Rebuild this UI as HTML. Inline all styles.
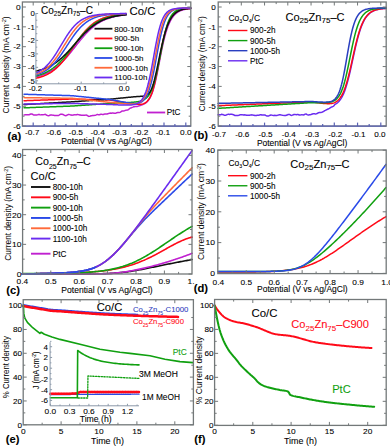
<!DOCTYPE html>
<html><head><meta charset="utf-8"><style>
html,body{margin:0;padding:0;background:#fff;}
svg{display:block;font-family:"Liberation Sans", sans-serif;}
</style></head><body>
<svg width="390" height="447" viewBox="0 0 390 447">
<rect width="390" height="447" fill="#fff"/>
<polyline points="24.04,114.9 24.81,114.86 25.57,114.79 26.33,114.65 27.09,114.7 27.85,114.77 28.61,114.8 29.37,114.67 30.14,114.25 30.9,113.97 31.66,113.9 32.42,114.27 33.18,114.71 33.94,114.92 34.71,114.99 35.47,114.91 36.23,115.03 36.99,114.9 37.75,114.67 38.51,114.42 39.27,114.56 40.04,114.79 40.8,114.88 41.56,114.79 42.32,114.81 43.08,114.82 43.84,114.6 44.6,114.39 45.37,114.37 46.13,114.81 46.89,115.26 47.65,115.62 48.41,115.77 49.17,115.53 49.94,115.2 50.7,114.9 51.46,114.94 52.22,115.05 52.98,115.13 53.74,115.27 54.5,115.42 55.27,115.48 56.03,115.38 56.79,115.41 57.55,115.45 58.31,115.47 59.07,115.09 59.83,114.65 60.6,114.29 61.36,114.12 62.12,114.26 62.88,114.42 63.64,114.91 64.4,115.18 65.17,115.65 65.93,115.6 66.69,115.44 67.45,114.91 68.21,114.56 68.97,114.54 69.73,114.63 70.5,114.91 71.26,115.05 72.02,115.21 72.78,115.08 73.54,114.92 74.3,114.74 75.06,114.88 75.83,114.79 76.59,114.78 77.35,114.53 78.11,114.6 78.87,114.65 79.63,114.94 80.4,115.08 81.16,115.33 81.92,115.28 82.68,115.36 83.44,115.25 84.2,115.29 84.96,115.22 85.73,115.12 86.49,115.11 87.25,115.47 88.01,115.98 88.77,116.38 89.53,116.25 90.3,116.04 91.06,115.77 91.82,115.7 92.58,115.57 93.34,115.49 94.1,115.43 94.86,115.37 95.63,115.19 96.39,114.85 97.15,114.58 97.91,114.61 98.67,114.81 99.43,114.72 100.19,114.42 100.96,114.19 101.72,114.33 102.48,114.45 103.24,114.41 104,114.19 104.76,114.08 105.53,114.1 106.29,114.03 107.05,113.94 107.81,113.71 108.57,113.58 109.33,113.3 110.09,113.21 110.86,113.09 111.62,113.16 112.38,113.02 113.14,113.09 113.9,113.16 114.66,113.34 115.42,113.27 116.19,112.97 116.95,112.65 117.71,112.49 118.47,112.52 119.23,112.6 119.99,112.39 120.76,111.9 121.52,111.3 122.28,111.02 123.04,110.98 123.8,110.9 124.56,110.69 125.32,110.37 126.09,110.15 126.85,110.11 127.61,110.01 128.37,109.66 129.13,108.99 129.89,108.43 130.65,107.97 131.42,107.75 132.18,107.42 132.94,107.12 133.7,106.8 134.46,106.69 135.22,106.57 135.99,106.58 136.75,106.45 137.51,106.42 138.27,106.1 139.03,105.9 139.79,105.59 140.55,105.45 141.32,105.06 142.08,104.71 142.84,104.44 143.6,104.14 144.36,103.78 145.12,103.35 145.89,102.84 146.65,102.22 147.41,101.48 148.17,100.61 148.93,99.57 149.69,98.36 150.45,96.93 151.22,95.28 151.98,93.38 152.74,91.21 153.5,88.76 154.26,86.03 155.02,83.03 155.78,79.76 156.55,76.25 157.31,72.55 158.07,68.71 158.83,64.77 159.59,60.8 160.35,56.85 161.12,52.97 161.88,49.21 162.64,45.61 163.4,42.2 164.16,39 164.92,36.01 165.68,33.25 166.45,30.71 167.21,28.4 167.97,26.28 168.73,24.37 169.49,22.64 170.25,21.08 171.01,19.68 171.78,18.42 172.54,17.29 173.3,16.28 174.06,15.38 174.82,14.57 175.58,13.85 176.35,13.21 177.11,12.64 177.87,12.13 178.63,11.67 179.39,11.27 180.15,10.91 180.91,10.58 181.68,10.3 182.44,10.04 183.2,9.82 183.96,9.62 184.72,9.44 185.48,9.28 186.24,9.14 187.01,9.01 187.77,8.9 188.53,8.8 189.29,8.71 190.05,8.63 190.81,8.56" fill="none" stroke="#c020d0" stroke-width="1.5" stroke-linejoin="round" stroke-linecap="round"/>
<polyline points="24.04,100.72 24.81,100.69 25.57,100.67 26.33,100.64 27.09,100.61 27.85,100.58 28.61,100.56 29.37,100.53 30.14,100.5 30.9,100.48 31.66,100.45 32.42,100.42 33.18,100.39 33.94,100.37 34.71,100.34 35.47,100.31 36.23,100.29 36.99,100.26 37.75,100.23 38.51,100.2 39.27,100.18 40.04,100.15 40.8,100.12 41.56,100.09 42.32,100.07 43.08,100.04 43.84,100.01 44.6,99.99 45.37,99.96 46.13,99.93 46.89,99.9 47.65,99.88 48.41,99.85 49.17,99.82 49.94,99.79 50.7,99.77 51.46,99.74 52.22,99.71 52.98,99.69 53.74,99.66 54.5,99.63 55.27,99.6 56.03,99.58 56.79,99.55 57.55,99.52 58.31,99.49 59.07,99.47 59.83,99.44 60.6,99.41 61.36,99.39 62.12,99.36 62.88,99.33 63.64,99.3 64.4,99.28 65.17,99.25 65.93,99.22 66.69,99.19 67.45,99.17 68.21,99.14 68.97,99.11 69.73,99.09 70.5,99.06 71.26,99.03 72.02,99.01 72.78,99.03 73.54,99.04 74.3,99.06 75.06,99.08 75.83,99.1 76.59,99.12 77.35,99.14 78.11,99.16 78.87,99.18 79.63,99.2 80.4,99.22 81.16,99.24 81.92,99.26 82.68,99.28 83.44,99.3 84.2,99.32 84.96,99.34 85.73,99.36 86.49,99.38 87.25,99.4 88.01,99.42 88.77,99.44 89.53,99.46 90.3,99.48 91.06,99.5 91.82,99.52 92.58,99.54 93.34,99.56 94.1,99.58 94.86,99.6 95.63,99.62 96.39,99.64 97.15,99.66 97.91,99.68 98.67,99.7 99.43,99.72 100.19,99.74 100.96,99.76 101.72,99.78 102.48,99.8 103.24,99.82 104,99.84 104.76,99.86 105.53,99.88 106.29,99.9 107.05,99.92 107.81,99.94 108.57,99.96 109.33,99.98 110.09,100.02 110.86,100.15 111.62,100.28 112.38,100.41 113.14,100.54 113.9,100.67 114.66,100.8 115.42,100.93 116.19,101.06 116.95,101.19 117.71,101.32 118.47,101.45 119.23,101.58 119.99,101.71 120.76,101.84 121.52,101.96 122.28,102.09 123.04,102.22 123.8,102.35 124.56,102.48 125.32,102.6 126.09,102.73 126.85,102.86 127.61,102.98 128.37,103.11 129.13,103.23 129.89,103.35 130.65,103.47 131.42,103.59 132.18,103.7 132.94,103.81 133.7,103.92 134.46,104.02 135.22,104.11 135.99,104.18 136.75,104.23 137.51,104.28 138.27,104.31 139.03,104.32 139.79,104.32 140.55,104.29 141.32,104.23 142.08,104.14 142.84,103.91 143.6,103.62 144.36,103.27 145.12,102.84 145.89,102.33 146.65,101.71 147.41,100.97 148.17,100.09 148.93,99.04 149.69,97.8 150.45,96.34 151.22,94.64 151.98,92.67 152.74,90.42 153.5,87.86 154.26,85 155.02,81.83 155.78,78.38 156.55,74.68 157.31,70.78 158.07,66.72 158.83,62.57 159.59,58.4 160.35,54.27 161.12,50.24 161.88,46.36 162.64,42.68 163.4,39.21 164.16,35.99 164.92,33.02 165.68,30.3 166.45,27.83 167.21,25.6 167.97,23.59 168.73,21.79 169.49,20.18 170.25,18.75 171.01,17.48 171.78,16.35 172.54,15.35 173.3,14.47 174.06,13.69 174.82,13.01 175.58,12.4 176.35,11.87 177.11,11.4 177.87,10.99 178.63,10.63 179.39,10.31 180.15,10.03 180.91,9.78 181.68,9.56 182.44,9.37 183.2,9.2 183.96,9.06 184.72,8.93 185.48,8.81 186.24,8.71 187.01,8.63 187.77,8.55 188.53,8.48 189.29,8.42 190.05,8.37 190.81,8.32" fill="none" stroke="#ff0a18" stroke-width="1.5" stroke-linejoin="round" stroke-linecap="round"/>
<polyline points="24.04,107.82 24.81,107.8 25.57,107.77 26.33,107.74 27.09,107.71 27.85,107.68 28.61,107.66 29.37,107.63 30.14,107.6 30.9,107.57 31.66,107.54 32.42,107.52 33.18,107.49 33.94,107.46 34.71,107.43 35.47,107.4 36.23,107.37 36.99,107.35 37.75,107.32 38.51,107.29 39.27,107.26 40.04,107.23 40.8,107.21 41.56,107.18 42.32,107.15 43.08,107.12 43.84,107.09 44.6,107.06 45.37,107.04 46.13,107.01 46.89,106.98 47.65,106.95 48.41,106.92 49.17,106.9 49.94,106.87 50.7,106.84 51.46,106.81 52.22,106.78 52.98,106.75 53.74,106.73 54.5,106.7 55.27,106.67 56.03,106.64 56.79,106.61 57.55,106.59 58.31,106.56 59.07,106.53 59.83,106.5 60.6,106.47 61.36,106.45 62.12,106.42 62.88,106.39 63.64,106.36 64.4,106.33 65.17,106.3 65.93,106.28 66.69,106.25 67.45,106.22 68.21,106.19 68.97,106.16 69.73,106.14 70.5,106.11 71.26,106.08 72.02,106.05 72.78,106 73.54,105.94 74.3,105.89 75.06,105.84 75.83,105.78 76.59,105.73 77.35,105.68 78.11,105.62 78.87,105.57 79.63,105.52 80.4,105.46 81.16,105.41 81.92,105.36 82.68,105.3 83.44,105.25 84.2,105.2 84.96,105.14 85.73,105.09 86.49,105.04 87.25,104.98 88.01,104.93 88.77,104.88 89.53,104.82 90.3,104.77 91.06,104.72 91.82,104.66 92.58,104.61 93.34,104.56 94.1,104.5 94.86,104.45 95.63,104.4 96.39,104.34 97.15,104.29 97.91,104.23 98.67,104.18 99.43,104.13 100.19,104.07 100.96,104.02 101.72,103.97 102.48,103.91 103.24,103.86 104,103.81 104.76,103.75 105.53,103.7 106.29,103.65 107.05,103.59 107.81,103.54 108.57,103.49 109.33,103.43 110.09,103.38 110.86,103.35 111.62,103.32 112.38,103.29 113.14,103.26 113.9,103.23 114.66,103.2 115.42,103.17 116.19,103.14 116.95,103.11 117.71,103.08 118.47,103.04 119.23,103.01 119.99,102.98 120.76,102.95 121.52,102.91 122.28,102.88 123.04,102.85 123.8,102.81 124.56,102.77 125.32,102.74 126.09,102.7 126.85,102.66 127.61,102.62 128.37,102.57 129.13,102.53 129.89,102.48 130.65,102.43 131.42,102.37 132.18,102.31 132.94,102.24 133.7,102.17 134.46,102.09 135.22,102 135.99,101.92 136.75,101.82 137.51,101.71 138.27,101.58 139.03,101.43 139.79,101.26 140.55,101.06 141.32,100.82 142.08,100.55 142.84,100.24 143.6,99.88 144.36,99.46 145.12,98.97 145.89,98.4 146.65,97.73 147.41,96.95 148.17,96.05 148.93,95.01 149.69,93.81 150.45,92.44 151.22,90.87 151.98,89.1 152.74,87.09 153.5,84.85 154.26,82.37 155.02,79.63 155.78,76.64 156.55,73.42 157.31,69.99 158.07,66.37 158.83,62.61 159.59,58.74 160.35,54.83 161.12,50.92 161.88,47.07 162.64,43.32 163.4,39.73 164.16,36.33 164.92,33.15 165.68,30.2 166.45,27.5 167.21,25.05 167.97,22.85 168.73,20.88 169.49,19.14 170.25,17.61 171.01,16.26 171.78,15.09 172.54,14.07 173.3,13.19 174.06,12.43 174.82,11.78 175.58,11.22 176.35,10.74 177.11,10.33 177.87,9.98 178.63,9.68 179.39,9.43 180.15,9.21 180.91,9.02 181.68,8.87 182.44,8.73 183.2,8.62 183.96,8.53 184.72,8.44 185.48,8.38 186.24,8.32 187.01,8.27 187.77,8.23 188.53,8.19 189.29,8.16 190.05,8.13 190.81,8.11" fill="none" stroke="#10a010" stroke-width="1.5" stroke-linejoin="round" stroke-linecap="round"/>
<polyline points="24.04,104.55 24.81,104.51 25.57,104.46 26.33,104.42 27.09,104.38 27.85,104.33 28.61,104.29 29.37,104.24 30.14,104.2 30.9,104.16 31.66,104.11 32.42,104.07 33.18,104.03 33.94,103.98 34.71,103.94 35.47,103.9 36.23,103.85 36.99,103.81 37.75,103.76 38.51,103.72 39.27,103.68 40.04,103.63 40.8,103.59 41.56,103.55 42.32,103.5 43.08,103.46 43.84,103.42 44.6,103.37 45.37,103.33 46.13,103.29 46.89,103.24 47.65,103.2 48.41,103.15 49.17,103.11 49.94,103.07 50.7,103.02 51.46,102.98 52.22,102.94 52.98,102.89 53.74,102.85 54.5,102.81 55.27,102.76 56.03,102.72 56.79,102.67 57.55,102.63 58.31,102.59 59.07,102.54 59.83,102.5 60.6,102.46 61.36,102.41 62.12,102.37 62.88,102.33 63.64,102.28 64.4,102.24 65.17,102.2 65.93,102.15 66.69,102.11 67.45,102.06 68.21,102.02 68.97,101.98 69.73,101.93 70.5,101.89 71.26,101.85 72.02,101.8 72.78,101.75 73.54,101.7 74.3,101.65 75.06,101.59 75.83,101.54 76.59,101.49 77.35,101.44 78.11,101.38 78.87,101.33 79.63,101.28 80.4,101.23 81.16,101.18 81.92,101.12 82.68,101.07 83.44,101.02 84.2,100.97 84.96,100.92 85.73,100.86 86.49,100.81 87.25,100.76 88.01,100.71 88.77,100.65 89.53,100.6 90.3,100.55 91.06,100.5 91.82,100.45 92.58,100.39 93.34,100.34 94.1,100.29 94.86,100.24 95.63,100.18 96.39,100.13 97.15,100.08 97.91,100.03 98.67,99.98 99.43,99.92 100.19,99.87 100.96,99.82 101.72,99.77 102.48,99.71 103.24,99.66 104,99.61 104.76,99.56 105.53,99.51 106.29,99.45 107.05,99.4 107.81,99.35 108.57,99.3 109.33,99.24 110.09,99.19 110.86,99.11 111.62,99.04 112.38,98.96 113.14,98.88 113.9,98.81 114.66,98.73 115.42,98.66 116.19,98.58 116.95,98.5 117.71,98.43 118.47,98.35 119.23,98.28 119.99,98.2 120.76,98.12 121.52,98.05 122.28,97.97 123.04,97.9 123.8,97.82 124.56,97.74 125.32,97.67 126.09,97.59 126.85,97.52 127.61,97.44 128.37,97.36 129.13,97.29 129.89,97.21 130.65,97.14 131.42,97.06 132.18,96.98 132.94,96.91 133.7,96.83 134.46,96.76 135.22,96.69 135.99,96.65 136.75,96.61 137.51,96.56 138.27,96.52 139.03,96.47 139.79,96.42 140.55,96.36 141.32,96.29 142.08,96.21 142.84,96.14 143.6,96.06 144.36,95.93 145.12,95.75 145.89,95.49 146.65,95.15 147.41,94.68 148.17,94.07 148.93,93.28 149.69,92.27 150.45,91.02 151.22,89.5 151.98,87.69 152.74,85.57 153.5,83.15 154.26,80.43 155.02,77.44 155.78,74.21 156.55,70.79 157.31,67.21 158.07,63.53 158.83,59.8 159.59,56.08 160.35,52.41 161.12,48.84 161.88,45.39 162.64,42.09 163.4,38.97 164.16,36.04 164.92,33.31 165.68,30.78 166.45,28.45 167.21,26.32 167.97,24.37 168.73,22.61 169.49,21.01 170.25,19.57 171.01,18.27 171.78,17.11 172.54,16.07 173.3,15.15 174.06,14.32 174.82,13.59 175.58,12.93 176.35,12.36 177.11,11.84 177.87,11.39 178.63,10.99 179.39,10.63 180.15,10.32 180.91,10.04 181.68,9.8 182.44,9.58 183.2,9.39 183.96,9.22 184.72,9.07 185.48,8.94 186.24,8.83 187.01,8.73 187.77,8.64 188.53,8.56 189.29,8.49 190.05,8.43 190.81,8.38" fill="none" stroke="#111111" stroke-width="1.5" stroke-linejoin="round" stroke-linecap="round"/>
<polyline points="24.04,94.26 24.81,94.28 25.57,94.3 26.33,94.33 27.09,94.35 27.85,94.37 28.61,94.4 29.37,94.42 30.14,94.44 30.9,94.46 31.66,94.49 32.42,94.51 33.18,94.53 33.94,94.55 34.71,94.58 35.47,94.6 36.23,94.62 36.99,94.65 37.75,94.67 38.51,94.69 39.27,94.71 40.04,94.74 40.8,94.76 41.56,94.78 42.32,94.8 43.08,94.83 43.84,94.85 44.6,94.87 45.37,94.9 46.13,94.92 46.89,94.94 47.65,94.96 48.41,94.99 49.17,95.01 49.94,95.03 50.7,95.05 51.46,95.08 52.22,95.1 52.98,95.12 53.74,95.15 54.5,95.17 55.27,95.19 56.03,95.21 56.79,95.24 57.55,95.26 58.31,95.28 59.07,95.3 59.83,95.33 60.6,95.35 61.36,95.37 62.12,95.4 62.88,95.42 63.64,95.44 64.4,95.46 65.17,95.49 65.93,95.51 66.69,95.53 67.45,95.55 68.21,95.58 68.97,95.6 69.73,95.62 70.5,95.64 71.26,95.67 72.02,95.69 72.78,95.77 73.54,95.84 74.3,95.92 75.06,96 75.83,96.07 76.59,96.15 77.35,96.23 78.11,96.3 78.87,96.38 79.63,96.46 80.4,96.53 81.16,96.61 81.92,96.69 82.68,96.76 83.44,96.84 84.2,96.92 84.96,96.99 85.73,97.07 86.49,97.15 87.25,97.22 88.01,97.3 88.77,97.37 89.53,97.45 90.3,97.53 91.06,97.6 91.82,97.68 92.58,97.76 93.34,97.83 94.1,97.91 94.86,97.99 95.63,98.06 96.39,98.14 97.15,98.22 97.91,98.29 98.67,98.37 99.43,98.45 100.19,98.52 100.96,98.6 101.72,98.67 102.48,98.75 103.24,98.83 104,98.9 104.76,98.98 105.53,99.06 106.29,99.13 107.05,99.21 107.81,99.29 108.57,99.36 109.33,99.44 110.09,99.53 110.86,99.67 111.62,99.82 112.38,99.96 113.14,100.1 113.9,100.25 114.66,100.39 115.42,100.53 116.19,100.68 116.95,100.82 117.71,100.96 118.47,101.1 119.23,101.25 119.99,101.39 120.76,101.53 121.52,101.67 122.28,101.8 123.04,101.94 123.8,102.07 124.56,102.21 125.32,102.34 126.09,102.47 126.85,102.59 127.61,102.71 128.37,102.83 129.13,102.94 129.89,103.05 130.65,103.15 131.42,103.24 132.18,103.32 132.94,103.39 133.7,103.45 134.46,103.49 135.22,103.49 135.99,103.45 136.75,103.38 137.51,103.28 138.27,103.14 139.03,102.95 139.79,102.72 140.55,102.42 141.32,102.05 142.08,101.6 142.84,100.97 143.6,100.21 144.36,99.33 145.12,98.31 145.89,97.13 146.65,95.77 147.41,94.2 148.17,92.42 148.93,90.4 149.69,88.13 150.45,85.59 151.22,82.78 151.98,79.7 152.74,76.36 153.5,72.79 154.26,69 155.02,65.05 155.78,60.98 156.55,56.85 157.31,52.72 158.07,48.64 158.83,44.67 159.59,40.87 160.35,37.27 161.12,33.9 161.88,30.79 162.64,27.96 163.4,25.39 164.16,23.09 164.92,21.04 165.68,19.23 166.45,17.64 167.21,16.26 167.97,15.06 168.73,14.02 169.49,13.13 170.25,12.36 171.01,11.7 171.78,11.14 172.54,10.66 173.3,10.25 174.06,9.9 174.82,9.61 175.58,9.36 176.35,9.15 177.11,8.97 177.87,8.82 178.63,8.69 179.39,8.58 180.15,8.49 180.91,8.41 181.68,8.35 182.44,8.29 183.2,8.24 183.96,8.2 184.72,8.17 185.48,8.14 186.24,8.12 187.01,8.1 187.77,8.08 188.53,8.07 189.29,8.06 190.05,8.05 190.81,8.04" fill="none" stroke="#2a4ae8" stroke-width="1.5" stroke-linejoin="round" stroke-linecap="round"/>
<polyline points="24.04,97.62 24.81,97.63 25.57,97.64 26.33,97.65 27.09,97.67 27.85,97.68 28.61,97.69 29.37,97.7 30.14,97.71 30.9,97.72 31.66,97.73 32.42,97.74 33.18,97.75 33.94,97.76 34.71,97.77 35.47,97.78 36.23,97.79 36.99,97.8 37.75,97.81 38.51,97.82 39.27,97.83 40.04,97.85 40.8,97.86 41.56,97.87 42.32,97.88 43.08,97.89 43.84,97.9 44.6,97.91 45.37,97.92 46.13,97.93 46.89,97.94 47.65,97.95 48.41,97.96 49.17,97.97 49.94,97.98 50.7,97.99 51.46,98 52.22,98.01 52.98,98.03 53.74,98.04 54.5,98.05 55.27,98.06 56.03,98.07 56.79,98.08 57.55,98.09 58.31,98.1 59.07,98.11 59.83,98.12 60.6,98.13 61.36,98.14 62.12,98.15 62.88,98.16 63.64,98.17 64.4,98.18 65.17,98.19 65.93,98.21 66.69,98.22 67.45,98.23 68.21,98.24 68.97,98.25 69.73,98.26 70.5,98.27 71.26,98.28 72.02,98.29 72.78,98.37 73.54,98.46 74.3,98.54 75.06,98.62 75.83,98.7 76.59,98.79 77.35,98.87 78.11,98.95 78.87,99.03 79.63,99.12 80.4,99.2 81.16,99.28 81.92,99.36 82.68,99.45 83.44,99.53 84.2,99.61 84.96,99.69 85.73,99.78 86.49,99.86 87.25,99.94 88.01,100.02 88.77,100.11 89.53,100.19 90.3,100.27 91.06,100.35 91.82,100.44 92.58,100.52 93.34,100.6 94.1,100.68 94.86,100.77 95.63,100.85 96.39,100.93 97.15,101.01 97.91,101.1 98.67,101.18 99.43,101.26 100.19,101.34 100.96,101.43 101.72,101.51 102.48,101.59 103.24,101.67 104,101.76 104.76,101.84 105.53,101.92 106.29,102 107.05,102.08 107.81,102.17 108.57,102.25 109.33,102.33 110.09,102.41 110.86,102.49 111.62,102.56 112.38,102.64 113.14,102.71 113.9,102.79 114.66,102.86 115.42,102.93 116.19,103.01 116.95,103.08 117.71,103.15 118.47,103.23 119.23,103.3 119.99,103.37 120.76,103.44 121.52,103.5 122.28,103.57 123.04,103.64 123.8,103.7 124.56,103.76 125.32,103.82 126.09,103.87 126.85,103.92 127.61,103.97 128.37,104.01 129.13,104.04 129.89,104.06 130.65,104.08 131.42,104.08 132.18,104.07 132.94,104.05 133.7,104 134.46,103.94 135.22,103.83 135.99,103.67 136.75,103.48 137.51,103.24 138.27,102.95 139.03,102.61 139.79,102.19 140.55,101.7 141.32,101.12 142.08,100.43 142.84,99.6 143.6,98.62 144.36,97.48 145.12,96.17 145.89,94.67 146.65,92.95 147.41,91 148.17,88.8 148.93,86.33 149.69,83.6 150.45,80.6 151.22,77.33 151.98,73.82 152.74,70.09 153.5,66.18 154.26,62.14 155.02,58.02 155.78,53.88 156.55,49.78 157.31,45.78 158.07,41.92 158.83,38.26 159.59,34.83 160.35,31.65 161.12,28.73 161.88,26.09 162.64,23.71 163.4,21.59 164.16,19.72 164.92,18.07 165.68,16.63 166.45,15.38 167.21,14.3 167.97,13.37 168.73,12.56 169.49,11.88 170.25,11.29 171.01,10.79 171.78,10.36 172.54,10 173.3,9.69 174.06,9.43 174.82,9.2 175.58,9.02 176.35,8.86 177.11,8.72 177.87,8.61 178.63,8.51 179.39,8.43 180.15,8.36 180.91,8.31 181.68,8.26 182.44,8.22 183.2,8.18 183.96,8.15 184.72,8.13 185.48,8.11 186.24,8.09 187.01,8.07 187.77,8.06 188.53,8.05 189.29,8.04 190.05,8.03 190.81,8.03" fill="none" stroke="#ff6a3a" stroke-width="1.5" stroke-linejoin="round" stroke-linecap="round"/>
<polyline points="24.04,103.96 24.81,103.95 25.57,103.95 26.33,103.94 27.09,103.93 27.85,103.92 28.61,103.91 29.37,103.9 30.14,103.89 30.9,103.88 31.66,103.87 32.42,103.86 33.18,103.85 33.94,103.85 34.71,103.84 35.47,103.83 36.23,103.82 36.99,103.81 37.75,103.8 38.51,103.79 39.27,103.78 40.04,103.77 40.8,103.76 41.56,103.75 42.32,103.75 43.08,103.74 43.84,103.73 44.6,103.72 45.37,103.71 46.13,103.7 46.89,103.69 47.65,103.68 48.41,103.67 49.17,103.66 49.94,103.65 50.7,103.65 51.46,103.64 52.22,103.63 52.98,103.62 53.74,103.61 54.5,103.6 55.27,103.59 56.03,103.58 56.79,103.57 57.55,103.56 58.31,103.55 59.07,103.55 59.83,103.54 60.6,103.53 61.36,103.52 62.12,103.51 62.88,103.5 63.64,103.49 64.4,103.48 65.17,103.47 65.93,103.46 66.69,103.46 67.45,103.45 68.21,103.44 68.97,103.43 69.73,103.42 70.5,103.41 71.26,103.4 72.02,103.39 72.78,103.41 73.54,103.44 74.3,103.46 75.06,103.48 75.83,103.5 76.59,103.53 77.35,103.55 78.11,103.57 78.87,103.59 79.63,103.62 80.4,103.64 81.16,103.66 81.92,103.68 82.68,103.7 83.44,103.73 84.2,103.75 84.96,103.77 85.73,103.79 86.49,103.82 87.25,103.84 88.01,103.86 88.77,103.88 89.53,103.91 90.3,103.93 91.06,103.95 91.82,103.97 92.58,103.99 93.34,104.02 94.1,104.04 94.86,104.06 95.63,104.08 96.39,104.11 97.15,104.13 97.91,104.15 98.67,104.17 99.43,104.2 100.19,104.22 100.96,104.24 101.72,104.26 102.48,104.28 103.24,104.31 104,104.33 104.76,104.35 105.53,104.37 106.29,104.39 107.05,104.42 107.81,104.44 108.57,104.46 109.33,104.48 110.09,104.51 110.86,104.54 111.62,104.58 112.38,104.61 113.14,104.65 113.9,104.68 114.66,104.72 115.42,104.75 116.19,104.78 116.95,104.81 117.71,104.85 118.47,104.88 119.23,104.91 119.99,104.94 120.76,104.97 121.52,104.99 122.28,105.02 123.04,105.04 123.8,105.06 124.56,105.07 125.32,105.09 126.09,105.09 126.85,105.1 127.61,105.09 128.37,105.08 129.13,105.06 129.89,105.03 130.65,104.99 131.42,104.93 132.18,104.85 132.94,104.75 133.7,104.63 134.46,104.48 135.22,104.28 135.99,104.03 136.75,103.74 137.51,103.38 138.27,102.96 139.03,102.46 139.79,101.86 140.55,101.17 141.32,100.34 142.08,99.38 142.84,98.25 143.6,96.93 144.36,95.4 145.12,93.66 145.89,91.67 146.65,89.42 147.41,86.89 148.17,84.07 148.93,80.97 149.69,77.6 150.45,73.96 151.22,70.1 151.98,66.05 152.74,61.87 153.5,57.61 154.26,53.35 155.02,49.13 155.78,45.04 156.55,41.11 157.31,37.4 158.07,33.93 158.83,30.74 159.59,27.84 160.35,25.22 161.12,22.88 161.88,20.8 162.64,18.98 163.4,17.39 164.16,16.01 164.92,14.81 165.68,13.78 166.45,12.9 167.21,12.15 167.97,11.51 168.73,10.96 169.49,10.5 170.25,10.1 171.01,9.77 171.78,9.49 172.54,9.25 173.3,9.05 174.06,8.89 174.82,8.74 175.58,8.62 176.35,8.52 177.11,8.44 177.87,8.37 178.63,8.31 179.39,8.26 180.15,8.21 180.91,8.18 181.68,8.15 182.44,8.12 183.2,8.1 183.96,8.09 184.72,8.07 185.48,8.06 186.24,8.05 187.01,8.04 187.77,8.03 188.53,8.03 189.29,8.02 190.05,8.02 190.81,8.01" fill="none" stroke="#6a2cf0" stroke-width="1.5" stroke-linejoin="round" stroke-linecap="round"/>
<rect x="22.4" y="2" width="168.4" height="124.1" fill="none" stroke="#737879" stroke-width="1.3"/>
<line x1="22.4" y1="126.1" x2="190.8" y2="126.1" stroke="#5a62b4" stroke-width="1.3"/>
<line x1="33.2" y1="126.1" x2="33.2" y2="122.6" stroke="#5a62b4" stroke-width="1.2"/>
<line x1="33.2" y1="2" x2="33.2" y2="5.5" stroke="#737879" stroke-width="1.0"/>
<line x1="44.1" y1="126.1" x2="44.1" y2="124" stroke="#5a62b4" stroke-width="1.2"/>
<line x1="44.1" y1="2" x2="44.1" y2="4.1" stroke="#737879" stroke-width="1.0"/>
<line x1="55" y1="126.1" x2="55" y2="122.6" stroke="#5a62b4" stroke-width="1.2"/>
<line x1="55" y1="2" x2="55" y2="5.5" stroke="#737879" stroke-width="1.0"/>
<line x1="65.9" y1="126.1" x2="65.9" y2="124" stroke="#5a62b4" stroke-width="1.2"/>
<line x1="65.9" y1="2" x2="65.9" y2="4.1" stroke="#737879" stroke-width="1.0"/>
<line x1="76.8" y1="126.1" x2="76.8" y2="122.6" stroke="#5a62b4" stroke-width="1.2"/>
<line x1="76.8" y1="2" x2="76.8" y2="5.5" stroke="#737879" stroke-width="1.0"/>
<line x1="87.7" y1="126.1" x2="87.7" y2="124" stroke="#5a62b4" stroke-width="1.2"/>
<line x1="87.7" y1="2" x2="87.7" y2="4.1" stroke="#737879" stroke-width="1.0"/>
<line x1="98.6" y1="126.1" x2="98.6" y2="122.6" stroke="#5a62b4" stroke-width="1.2"/>
<line x1="98.6" y1="2" x2="98.6" y2="5.5" stroke="#737879" stroke-width="1.0"/>
<line x1="109.5" y1="126.1" x2="109.5" y2="124" stroke="#5a62b4" stroke-width="1.2"/>
<line x1="109.5" y1="2" x2="109.5" y2="4.1" stroke="#737879" stroke-width="1.0"/>
<line x1="120.4" y1="126.1" x2="120.4" y2="122.6" stroke="#5a62b4" stroke-width="1.2"/>
<line x1="120.4" y1="2" x2="120.4" y2="5.5" stroke="#737879" stroke-width="1.0"/>
<line x1="131.3" y1="126.1" x2="131.3" y2="124" stroke="#5a62b4" stroke-width="1.2"/>
<line x1="131.3" y1="2" x2="131.3" y2="4.1" stroke="#737879" stroke-width="1.0"/>
<line x1="142.2" y1="126.1" x2="142.2" y2="122.6" stroke="#5a62b4" stroke-width="1.2"/>
<line x1="142.2" y1="2" x2="142.2" y2="5.5" stroke="#737879" stroke-width="1.0"/>
<line x1="153.1" y1="126.1" x2="153.1" y2="124" stroke="#5a62b4" stroke-width="1.2"/>
<line x1="153.1" y1="2" x2="153.1" y2="4.1" stroke="#737879" stroke-width="1.0"/>
<line x1="164" y1="126.1" x2="164" y2="122.6" stroke="#5a62b4" stroke-width="1.2"/>
<line x1="164" y1="2" x2="164" y2="5.5" stroke="#737879" stroke-width="1.0"/>
<line x1="174.9" y1="126.1" x2="174.9" y2="124" stroke="#5a62b4" stroke-width="1.2"/>
<line x1="174.9" y1="2" x2="174.9" y2="4.1" stroke="#737879" stroke-width="1.0"/>
<line x1="185.8" y1="126.1" x2="185.8" y2="122.6" stroke="#5a62b4" stroke-width="1.2"/>
<line x1="185.8" y1="2" x2="185.8" y2="5.5" stroke="#737879" stroke-width="1.0"/>
<line x1="22.4" y1="7" x2="25.9" y2="7" stroke="#737879" stroke-width="1.0"/>
<line x1="190.8" y1="7" x2="187.3" y2="7" stroke="#737879" stroke-width="1.0"/>
<line x1="22.4" y1="16.93" x2="24.5" y2="16.93" stroke="#737879" stroke-width="1.0"/>
<line x1="190.8" y1="16.93" x2="188.7" y2="16.93" stroke="#737879" stroke-width="1.0"/>
<line x1="22.4" y1="26.85" x2="25.9" y2="26.85" stroke="#737879" stroke-width="1.0"/>
<line x1="190.8" y1="26.85" x2="187.3" y2="26.85" stroke="#737879" stroke-width="1.0"/>
<line x1="22.4" y1="36.78" x2="24.5" y2="36.78" stroke="#737879" stroke-width="1.0"/>
<line x1="190.8" y1="36.78" x2="188.7" y2="36.78" stroke="#737879" stroke-width="1.0"/>
<line x1="22.4" y1="46.7" x2="25.9" y2="46.7" stroke="#737879" stroke-width="1.0"/>
<line x1="190.8" y1="46.7" x2="187.3" y2="46.7" stroke="#737879" stroke-width="1.0"/>
<line x1="22.4" y1="56.62" x2="24.5" y2="56.62" stroke="#737879" stroke-width="1.0"/>
<line x1="190.8" y1="56.62" x2="188.7" y2="56.62" stroke="#737879" stroke-width="1.0"/>
<line x1="22.4" y1="66.55" x2="25.9" y2="66.55" stroke="#737879" stroke-width="1.0"/>
<line x1="190.8" y1="66.55" x2="187.3" y2="66.55" stroke="#737879" stroke-width="1.0"/>
<line x1="22.4" y1="76.48" x2="24.5" y2="76.48" stroke="#737879" stroke-width="1.0"/>
<line x1="190.8" y1="76.48" x2="188.7" y2="76.48" stroke="#737879" stroke-width="1.0"/>
<line x1="22.4" y1="86.4" x2="25.9" y2="86.4" stroke="#737879" stroke-width="1.0"/>
<line x1="190.8" y1="86.4" x2="187.3" y2="86.4" stroke="#737879" stroke-width="1.0"/>
<line x1="22.4" y1="96.33" x2="24.5" y2="96.33" stroke="#737879" stroke-width="1.0"/>
<line x1="190.8" y1="96.33" x2="188.7" y2="96.33" stroke="#737879" stroke-width="1.0"/>
<line x1="22.4" y1="106.25" x2="25.9" y2="106.25" stroke="#737879" stroke-width="1.0"/>
<line x1="190.8" y1="106.25" x2="187.3" y2="106.25" stroke="#737879" stroke-width="1.0"/>
<line x1="22.4" y1="116.18" x2="24.5" y2="116.18" stroke="#737879" stroke-width="1.0"/>
<line x1="190.8" y1="116.18" x2="188.7" y2="116.18" stroke="#737879" stroke-width="1.0"/>
<line x1="22.4" y1="126.1" x2="25.9" y2="126.1" stroke="#737879" stroke-width="1.0"/>
<line x1="190.8" y1="126.1" x2="187.3" y2="126.1" stroke="#737879" stroke-width="1.0"/>
<text transform="translate(32.2,132.6) scale(1.0800,1)" x="0" y="2.78" font-size="7.73" fill="#000" stroke="#000" stroke-width="0.08" text-anchor="middle">-0.7</text>
<text transform="translate(54,132.6) scale(1.0800,1)" x="0" y="2.78" font-size="7.73" fill="#000" stroke="#000" stroke-width="0.08" text-anchor="middle">-0.6</text>
<text transform="translate(75.8,132.6) scale(1.0800,1)" x="0" y="2.78" font-size="7.73" fill="#000" stroke="#000" stroke-width="0.08" text-anchor="middle">-0.5</text>
<text transform="translate(97.6,132.6) scale(1.0800,1)" x="0" y="2.78" font-size="7.73" fill="#000" stroke="#000" stroke-width="0.08" text-anchor="middle">-0.4</text>
<text transform="translate(119.4,132.6) scale(1.0800,1)" x="0" y="2.78" font-size="7.73" fill="#000" stroke="#000" stroke-width="0.08" text-anchor="middle">-0.3</text>
<text transform="translate(141.2,132.6) scale(1.0800,1)" x="0" y="2.78" font-size="7.73" fill="#000" stroke="#000" stroke-width="0.08" text-anchor="middle">-0.2</text>
<text transform="translate(163,132.6) scale(1.0800,1)" x="0" y="2.78" font-size="7.73" fill="#000" stroke="#000" stroke-width="0.08" text-anchor="middle">-0.1</text>
<text transform="translate(185.8,132.6) scale(1.0800,1)" x="0" y="2.78" font-size="7.73" fill="#000" stroke="#000" stroke-width="0.08" text-anchor="middle">0.0</text>
<text transform="translate(20.6,7) scale(1.0800,1)" x="0" y="2.78" font-size="7.73" fill="#000" stroke="#000" stroke-width="0.08" text-anchor="end">0</text>
<text transform="translate(20.6,26.85) scale(1.0800,1)" x="0" y="2.78" font-size="7.73" fill="#000" stroke="#000" stroke-width="0.08" text-anchor="end">-1</text>
<text transform="translate(20.6,46.7) scale(1.0800,1)" x="0" y="2.78" font-size="7.73" fill="#000" stroke="#000" stroke-width="0.08" text-anchor="end">-2</text>
<text transform="translate(20.6,66.55) scale(1.0800,1)" x="0" y="2.78" font-size="7.73" fill="#000" stroke="#000" stroke-width="0.08" text-anchor="end">-3</text>
<text transform="translate(20.6,86.4) scale(1.0800,1)" x="0" y="2.78" font-size="7.73" fill="#000" stroke="#000" stroke-width="0.08" text-anchor="end">-4</text>
<text transform="translate(20.6,106.25) scale(1.0800,1)" x="0" y="2.78" font-size="7.73" fill="#000" stroke="#000" stroke-width="0.08" text-anchor="end">-5</text>
<text transform="translate(20.6,126.1) scale(1.0800,1)" x="0" y="2.78" font-size="7.73" fill="#000" stroke="#000" stroke-width="0.08" text-anchor="end">-6</text>
<text transform="translate(106.6,141.3) scale(1.0118,1)" x="0" y="3.02" font-size="8.4" fill="#000" stroke="#000" stroke-width="0.08" text-anchor="middle">Potential (V vs Ag/AgCl)</text>
<text transform="translate(6.4,64.85) rotate(-90) scale(1.0078,1)" x="0" y="3.06" font-size="8.5" fill="#000" stroke="#000" stroke-width="0" text-anchor="middle"><tspan font-size="8.5">Current density (mA cm</tspan><tspan font-size="5.53" dy="-3.4">-2</tspan><tspan font-size="8.5" dy="3.4">)</tspan></text>
<text transform="translate(7.5,135.85)" x="0" y="4.03" font-size="11.2" fill="#000" stroke="#000" stroke-width="0.08" font-weight="bold">(a)</text>
<polyline points="36.2,76.87 36.96,76.69 37.71,76.5 38.47,76.29 39.23,76.08 39.98,75.85 40.74,75.62 41.49,75.37 42.25,75.11 43.01,74.83 43.76,74.54 44.52,74.24 45.28,73.92 46.03,73.59 46.79,73.24 47.54,72.88 48.3,72.49 49.06,72.1 49.81,71.68 50.57,71.24 51.33,70.79 52.08,70.32 52.84,69.82 53.59,69.31 54.35,68.78 55.11,68.22 55.86,67.65 56.62,67.05 57.38,66.43 58.13,65.79 58.89,65.13 59.65,64.45 60.4,63.75 61.16,63.02 61.91,62.28 62.67,61.51 63.43,60.73 64.18,59.93 64.94,59.1 65.7,58.26 66.45,57.41 67.21,56.54 67.96,55.65 68.72,54.75 69.48,53.83 70.23,52.91 70.99,51.97 71.75,51.03 72.5,50.08 73.26,49.13 74.02,48.17 74.77,47.21 75.53,46.24 76.28,45.28 77.04,44.32 77.8,43.37 78.55,42.42 79.31,41.48 80.07,40.55 80.82,39.62 81.58,38.71 82.33,37.81 83.09,36.93 83.85,36.06 84.6,35.21 85.36,34.37 86.12,33.55 86.87,32.75 87.63,31.97 88.38,31.21 89.14,30.47 89.9,29.75 90.65,29.05 91.41,28.37 92.17,27.72 92.92,27.08 93.68,26.47 94.44,25.87 95.19,25.3 95.95,24.75 96.7,24.22 97.46,23.71 98.22,23.22 98.97,22.75 99.73,22.3 100.49,21.87 101.24,21.46 102,21.06 102.75,20.68 103.51,20.32 104.27,19.98 105.02,19.65 105.78,19.33 106.54,19.03 107.29,18.74 108.05,18.47 108.81,18.21 109.56,17.97 110.32,17.73 111.07,17.51 111.83,17.3 112.59,17.09 113.34,16.9 114.1,16.72 114.86,16.55 115.61,16.39 116.37,16.23 117.12,16.08 117.88,15.94 118.64,15.81 119.39,15.69 120.15,15.57 120.91,15.45 121.66,15.35 122.42,15.25 123.17,15.15 123.93,15.06 124.69,14.97 125.44,14.89 126.2,14.82" fill="none" stroke="#c020d0" stroke-width="1.5" stroke-linejoin="round" stroke-linecap="round"/>
<polyline points="36.2,78.19 36.96,78.02 37.71,77.84 38.47,77.65 39.23,77.45 39.98,77.23 40.74,77 41.49,76.76 42.25,76.5 43.01,76.23 43.76,75.95 44.52,75.64 45.28,75.32 46.03,74.98 46.79,74.62 47.54,74.24 48.3,73.84 49.06,73.42 49.81,72.98 50.57,72.52 51.33,72.03 52.08,71.51 52.84,70.98 53.59,70.41 54.35,69.82 55.11,69.21 55.86,68.56 56.62,67.89 57.38,67.19 58.13,66.47 58.89,65.71 59.65,64.93 60.4,64.12 61.16,63.28 61.91,62.42 62.67,61.53 63.43,60.61 64.18,59.67 64.94,58.71 65.7,57.72 66.45,56.72 67.21,55.7 67.96,54.65 68.72,53.6 69.48,52.53 70.23,51.44 70.99,50.35 71.75,49.26 72.5,48.15 73.26,47.05 74.02,45.95 74.77,44.84 75.53,43.75 76.28,42.66 77.04,41.58 77.8,40.51 78.55,39.46 79.31,38.42 80.07,37.4 80.82,36.39 81.58,35.41 82.33,34.45 83.09,33.52 83.85,32.61 84.6,31.72 85.36,30.86 86.12,30.03 86.87,29.23 87.63,28.45 88.38,27.7 89.14,26.98 89.9,26.28 90.65,25.62 91.41,24.98 92.17,24.37 92.92,23.78 93.68,23.22 94.44,22.69 95.19,22.18 95.95,21.7 96.7,21.24 97.46,20.8 98.22,20.38 98.97,19.99 99.73,19.61 100.49,19.26 101.24,18.92 102,18.6 102.75,18.3 103.51,18.02 104.27,17.75 105.02,17.49 105.78,17.25 106.54,17.03 107.29,16.81 108.05,16.61 108.81,16.42 109.56,16.25 110.32,16.08 111.07,15.92 111.83,15.77 112.59,15.63 113.34,15.5 114.1,15.38 114.86,15.26 115.61,15.15 116.37,15.05 117.12,14.95 117.88,14.86 118.64,14.78 119.39,14.7 120.15,14.62 120.91,14.55 121.66,14.49 122.42,14.42 123.17,14.37 123.93,14.31 124.69,14.26 125.44,14.21 126.2,14.17" fill="none" stroke="#ff0a18" stroke-width="1.5" stroke-linejoin="round" stroke-linecap="round"/>
<polyline points="36.2,75.99 36.96,75.79 37.71,75.58 38.47,75.36 39.23,75.13 39.98,74.88 40.74,74.62 41.49,74.35 42.25,74.06 43.01,73.76 43.76,73.44 44.52,73.11 45.28,72.76 46.03,72.4 46.79,72.02 47.54,71.61 48.3,71.19 49.06,70.76 49.81,70.3 50.57,69.82 51.33,69.32 52.08,68.8 52.84,68.26 53.59,67.7 54.35,67.11 55.11,66.5 55.86,65.88 56.62,65.22 57.38,64.55 58.13,63.85 58.89,63.13 59.65,62.39 60.4,61.63 61.16,60.85 61.91,60.05 62.67,59.22 63.43,58.38 64.18,57.52 64.94,56.64 65.7,55.75 66.45,54.84 67.21,53.92 67.96,52.98 68.72,52.03 69.48,51.08 70.23,50.12 70.99,49.14 71.75,48.17 72.5,47.19 73.26,46.21 74.02,45.23 74.77,44.26 75.53,43.29 76.28,42.32 77.04,41.36 77.8,40.41 78.55,39.47 79.31,38.54 80.07,37.62 80.82,36.72 81.58,35.84 82.33,34.97 83.09,34.12 83.85,33.28 84.6,32.47 85.36,31.68 86.12,30.91 86.87,30.16 87.63,29.43 88.38,28.72 89.14,28.04 89.9,27.38 90.65,26.74 91.41,26.12 92.17,25.52 92.92,24.95 93.68,24.4 94.44,23.87 95.19,23.36 95.95,22.87 96.7,22.41 97.46,21.96 98.22,21.53 98.97,21.12 99.73,20.73 100.49,20.36 101.24,20 102,19.66 102.75,19.34 103.51,19.03 104.27,18.73 105.02,18.46 105.78,18.19 106.54,17.94 107.29,17.7 108.05,17.47 108.81,17.26 109.56,17.05 110.32,16.86 111.07,16.67 111.83,16.5 112.59,16.33 113.34,16.18 114.1,16.03 114.86,15.89 115.61,15.75 116.37,15.63 117.12,15.51 117.88,15.4 118.64,15.29 119.39,15.19 120.15,15.09 120.91,15 121.66,14.92 122.42,14.84 123.17,14.76 123.93,14.69 124.69,14.62 125.44,14.56 126.2,14.5" fill="none" stroke="#10a010" stroke-width="1.5" stroke-linejoin="round" stroke-linecap="round"/>
<polyline points="36.2,71.03 36.96,70.86 37.71,70.68 38.47,70.49 39.23,70.29 39.98,70.08 40.74,69.87 41.49,69.64 42.25,69.4 43.01,69.14 43.76,68.88 44.52,68.6 45.28,68.31 46.03,68 46.79,67.69 47.54,67.35 48.3,67 49.06,66.64 49.81,66.26 50.57,65.86 51.33,65.44 52.08,65.01 52.84,64.56 53.59,64.1 54.35,63.61 55.11,63.11 55.86,62.58 56.62,62.04 57.38,61.48 58.13,60.9 58.89,60.3 59.65,59.69 60.4,59.05 61.16,58.4 61.91,57.72 62.67,57.03 63.43,56.32 64.18,55.6 64.94,54.85 65.7,54.1 66.45,53.32 67.21,52.54 67.96,51.74 68.72,50.93 69.48,50.1 70.23,49.27 70.99,48.43 71.75,47.58 72.5,46.73 73.26,45.87 74.02,45 74.77,44.14 75.53,43.27 76.28,42.41 77.04,41.55 77.8,40.69 78.55,39.83 79.31,38.99 80.07,38.15 80.82,37.31 81.58,36.49 82.33,35.68 83.09,34.89 83.85,34.1 84.6,33.33 85.36,32.58 86.12,31.84 86.87,31.12 87.63,30.41 88.38,29.72 89.14,29.05 89.9,28.4 90.65,27.77 91.41,27.15 92.17,26.56 92.92,25.98 93.68,25.43 94.44,24.89 95.19,24.37 95.95,23.87 96.7,23.39 97.46,22.92 98.22,22.48 98.97,22.05 99.73,21.64 100.49,21.24 101.24,20.86 102,20.5 102.75,20.16 103.51,19.83 104.27,19.51 105.02,19.21 105.78,18.92 106.54,18.64 107.29,18.38 108.05,18.13 108.81,17.89 109.56,17.66 110.32,17.45 111.07,17.24 111.83,17.05 112.59,16.86 113.34,16.68 114.1,16.51 114.86,16.35 115.61,16.2 116.37,16.06 117.12,15.92 117.88,15.79 118.64,15.67 119.39,15.55 120.15,15.44 120.91,15.34 121.66,15.24 122.42,15.15 123.17,15.06 123.93,14.97 124.69,14.89 125.44,14.82 126.2,14.74" fill="none" stroke="#111111" stroke-width="1.5" stroke-linejoin="round" stroke-linecap="round"/>
<polyline points="36.2,74.89 36.96,74.66 37.71,74.42 38.47,74.16 39.23,73.88 39.98,73.58 40.74,73.27 41.49,72.93 42.25,72.58 43.01,72.2 43.76,71.8 44.52,71.38 45.28,70.93 46.03,70.45 46.79,69.95 47.54,69.42 48.3,68.86 49.06,68.27 49.81,67.65 50.57,67 51.33,66.32 52.08,65.6 52.84,64.85 53.59,64.08 54.35,63.26 55.11,62.42 55.86,61.54 56.62,60.63 57.38,59.7 58.13,58.73 58.89,57.73 59.65,56.71 60.4,55.66 61.16,54.59 61.91,53.49 62.67,52.38 63.43,51.25 64.18,50.11 64.94,48.95 65.7,47.79 66.45,46.62 67.21,45.45 67.96,44.28 68.72,43.12 69.48,41.96 70.23,40.81 70.99,39.68 71.75,38.56 72.5,37.45 73.26,36.37 74.02,35.31 74.77,34.28 75.53,33.27 76.28,32.29 77.04,31.34 77.8,30.42 78.55,29.53 79.31,28.68 80.07,27.85 80.82,27.06 81.58,26.3 82.33,25.57 83.09,24.88 83.85,24.21 84.6,23.58 85.36,22.98 86.12,22.41 86.87,21.87 87.63,21.35 88.38,20.87 89.14,20.41 89.9,19.97 90.65,19.56 91.41,19.18 92.17,18.81 92.92,18.47 93.68,18.15 94.44,17.84 95.19,17.56 95.95,17.29 96.7,17.04 97.46,16.81 98.22,16.59 98.97,16.38 99.73,16.19 100.49,16.01 101.24,15.84 102,15.68 102.75,15.53 103.51,15.4 104.27,15.27 105.02,15.15 105.78,15.03 106.54,14.93 107.29,14.83 108.05,14.74 108.81,14.65 109.56,14.58 110.32,14.5 111.07,14.43 111.83,14.37 112.59,14.31 113.34,14.25 114.1,14.2 114.86,14.15 115.61,14.11 116.37,14.06 117.12,14.03 117.88,13.99 118.64,13.96 119.39,13.92 120.15,13.89 120.91,13.87 121.66,13.84 122.42,13.82 123.17,13.8 123.93,13.77 124.69,13.76 125.44,13.74 126.2,13.72" fill="none" stroke="#2a4ae8" stroke-width="1.5" stroke-linejoin="round" stroke-linecap="round"/>
<polyline points="36.2,73.95 36.96,73.69 37.71,73.41 38.47,73.1 39.23,72.78 39.98,72.44 40.74,72.07 41.49,71.68 42.25,71.26 43.01,70.82 43.76,70.35 44.52,69.85 45.28,69.32 46.03,68.76 46.79,68.16 47.54,67.53 48.3,66.87 49.06,66.17 49.81,65.44 50.57,64.67 51.33,63.86 52.08,63.02 52.84,62.14 53.59,61.23 54.35,60.28 55.11,59.29 55.86,58.27 56.62,57.22 57.38,56.14 58.13,55.03 58.89,53.9 59.65,52.74 60.4,51.56 61.16,50.37 61.91,49.16 62.67,47.94 63.43,46.71 64.18,45.48 64.94,44.25 65.7,43.02 66.45,41.8 67.21,40.59 67.96,39.39 68.72,38.21 69.48,37.06 70.23,35.92 70.99,34.81 71.75,33.73 72.5,32.68 73.26,31.66 74.02,30.68 74.77,29.72 75.53,28.81 76.28,27.93 77.04,27.09 77.8,26.28 78.55,25.51 79.31,24.78 80.07,24.08 80.82,23.41 81.58,22.79 82.33,22.19 83.09,21.63 83.85,21.1 84.6,20.59 85.36,20.12 86.12,19.68 86.87,19.26 87.63,18.87 88.38,18.5 89.14,18.16 89.9,17.84 90.65,17.54 91.41,17.25 92.17,16.99 92.92,16.74 93.68,16.51 94.44,16.3 95.19,16.1 95.95,15.92 96.7,15.74 97.46,15.58 98.22,15.43 98.97,15.29 99.73,15.16 100.49,15.04 101.24,14.93 102,14.83 102.75,14.73 103.51,14.64 104.27,14.56 105.02,14.48 105.78,14.41 106.54,14.34 107.29,14.28 108.05,14.22 108.81,14.17 109.56,14.12 110.32,14.08 111.07,14.03 111.83,13.99 112.59,13.96 113.34,13.92 114.1,13.89 114.86,13.86 115.61,13.84 116.37,13.81 117.12,13.79 117.88,13.77 118.64,13.75 119.39,13.73 120.15,13.71 120.91,13.7 121.66,13.68 122.42,13.67 123.17,13.66 123.93,13.64 124.69,13.63 125.44,13.62 126.2,13.61" fill="none" stroke="#ff6a3a" stroke-width="1.5" stroke-linejoin="round" stroke-linecap="round"/>
<polyline points="36.2,72.82 36.96,72.5 37.71,72.15 38.47,71.77 39.23,71.37 39.98,70.94 40.74,70.48 41.49,69.99 42.25,69.48 43.01,68.92 43.76,68.34 44.52,67.72 45.28,67.06 46.03,66.36 46.79,65.63 47.54,64.86 48.3,64.05 49.06,63.2 49.81,62.31 50.57,61.38 51.33,60.41 52.08,59.41 52.84,58.36 53.59,57.29 54.35,56.18 55.11,55.03 55.86,53.86 56.62,52.67 57.38,51.45 58.13,50.21 58.89,48.96 59.65,47.69 60.4,46.42 61.16,45.14 61.91,43.87 62.67,42.59 63.43,41.33 64.18,40.08 64.94,38.85 65.7,37.63 66.45,36.44 67.21,35.28 67.96,34.14 68.72,33.03 69.48,31.96 70.23,30.93 70.99,29.93 71.75,28.97 72.5,28.05 73.26,27.17 74.02,26.32 74.77,25.52 75.53,24.76 76.28,24.03 77.04,23.34 77.8,22.69 78.55,22.08 79.31,21.5 80.07,20.95 80.82,20.44 81.58,19.96 82.33,19.51 83.09,19.08 83.85,18.69 84.6,18.32 85.36,17.97 86.12,17.65 86.87,17.35 87.63,17.07 88.38,16.8 89.14,16.56 89.9,16.34 90.65,16.13 91.41,15.93 92.17,15.75 92.92,15.58 93.68,15.43 94.44,15.28 95.19,15.15 95.95,15.02 96.7,14.91 97.46,14.8 98.22,14.7 98.97,14.61 99.73,14.53 100.49,14.45 101.24,14.38 102,14.31 102.75,14.25 103.51,14.19 104.27,14.14 105.02,14.09 105.78,14.04 106.54,14 107.29,13.96 108.05,13.93 108.81,13.9 109.56,13.86 110.32,13.84 111.07,13.81 111.83,13.79 112.59,13.76 113.34,13.74 114.1,13.73 114.86,13.71 115.61,13.69 116.37,13.68 117.12,13.66 117.88,13.65 118.64,13.64 119.39,13.63 120.15,13.62 120.91,13.61 121.66,13.6 122.42,13.59 123.17,13.59 123.93,13.58 124.69,13.57 125.44,13.57 126.2,13.56" fill="none" stroke="#6a2cf0" stroke-width="1.5" stroke-linejoin="round" stroke-linecap="round"/>
<line x1="35.9" y1="13" x2="35.9" y2="83.8" stroke="#8a98a8" stroke-width="1.0"/>
<line x1="35.9" y1="83.8" x2="126.4" y2="83.8" stroke="#8a98a8" stroke-width="1.0"/>
<line x1="35.9" y1="13.5" x2="38.1" y2="13.5" stroke="#8a98a8" stroke-width="1.0"/>
<line x1="35.9" y1="20.23" x2="37.3" y2="20.23" stroke="#8a98a8" stroke-width="1.0"/>
<line x1="35.9" y1="26.96" x2="38.1" y2="26.96" stroke="#8a98a8" stroke-width="1.0"/>
<line x1="35.9" y1="33.69" x2="37.3" y2="33.69" stroke="#8a98a8" stroke-width="1.0"/>
<line x1="35.9" y1="40.42" x2="38.1" y2="40.42" stroke="#8a98a8" stroke-width="1.0"/>
<line x1="35.9" y1="47.15" x2="37.3" y2="47.15" stroke="#8a98a8" stroke-width="1.0"/>
<line x1="35.9" y1="53.88" x2="38.1" y2="53.88" stroke="#8a98a8" stroke-width="1.0"/>
<line x1="35.9" y1="60.61" x2="37.3" y2="60.61" stroke="#8a98a8" stroke-width="1.0"/>
<line x1="35.9" y1="67.34" x2="38.1" y2="67.34" stroke="#8a98a8" stroke-width="1.0"/>
<line x1="35.9" y1="74.07" x2="37.3" y2="74.07" stroke="#8a98a8" stroke-width="1.0"/>
<line x1="35.9" y1="80.8" x2="38.1" y2="80.8" stroke="#8a98a8" stroke-width="1.0"/>
<line x1="36.2" y1="83.8" x2="36.2" y2="81.6" stroke="#8a98a8" stroke-width="1.0"/>
<line x1="58.7" y1="83.8" x2="58.7" y2="82.4" stroke="#8a98a8" stroke-width="1.0"/>
<line x1="81.2" y1="83.8" x2="81.2" y2="81.6" stroke="#8a98a8" stroke-width="1.0"/>
<line x1="103.7" y1="83.8" x2="103.7" y2="82.4" stroke="#8a98a8" stroke-width="1.0"/>
<line x1="126.2" y1="83.8" x2="126.2" y2="81.6" stroke="#8a98a8" stroke-width="1.0"/>
<text transform="translate(34.8,13.5)" x="0" y="2.81" font-size="7.8" fill="#000" stroke="#000" stroke-width="0.08" text-anchor="end">0</text>
<text transform="translate(34.8,26.96)" x="0" y="2.81" font-size="7.8" fill="#000" stroke="#000" stroke-width="0.08" text-anchor="end">-1</text>
<text transform="translate(34.8,40.42)" x="0" y="2.81" font-size="7.8" fill="#000" stroke="#000" stroke-width="0.08" text-anchor="end">-2</text>
<text transform="translate(34.8,53.88)" x="0" y="2.81" font-size="7.8" fill="#000" stroke="#000" stroke-width="0.08" text-anchor="end">-3</text>
<text transform="translate(34.8,67.34)" x="0" y="2.81" font-size="7.8" fill="#000" stroke="#000" stroke-width="0.08" text-anchor="end">-4</text>
<text transform="translate(34.8,80.8)" x="0" y="2.81" font-size="7.8" fill="#000" stroke="#000" stroke-width="0.08" text-anchor="end">-5</text>
<text transform="translate(35.4,88.6)" x="0" y="2.81" font-size="7.8" fill="#000" stroke="#000" stroke-width="0.08" text-anchor="middle">-0.2</text>
<text transform="translate(80.6,88.6)" x="0" y="2.81" font-size="7.8" fill="#000" stroke="#000" stroke-width="0.08" text-anchor="middle">-0.1</text>
<text transform="translate(124.2,88.6)" x="0" y="2.81" font-size="7.8" fill="#000" stroke="#000" stroke-width="0.08" text-anchor="middle">0.0</text>
<text transform="translate(41,9.9) scale(1.0058,1)" x="0" y="3.6" font-size="10" fill="#000" stroke="#000" stroke-width="0.08"><tspan font-size="10">Co</tspan><tspan font-size="6.5" dy="3">25</tspan><tspan font-size="10" dy="-3">Zn</tspan><tspan font-size="6.5" dy="3">75</tspan><tspan font-size="10" dy="-3">–C</tspan></text>
<text transform="translate(129.4,11.1) scale(1.0374,1)" x="0" y="3.96" font-size="11" fill="#000" stroke="#000" stroke-width="0.08">Co/C</text>
<line x1="94.5" y1="28.7" x2="112.4" y2="28.7" stroke="#111111" stroke-width="1.8"/>
<text transform="translate(114.2,28.7)" x="0" y="2.88" font-size="8" fill="#000" stroke="#000" stroke-width="0.08">800-10h</text>
<line x1="94.5" y1="38.46" x2="112.4" y2="38.46" stroke="#ff0a18" stroke-width="1.8"/>
<text transform="translate(114.2,38.46)" x="0" y="2.88" font-size="8" fill="#000" stroke="#000" stroke-width="0.08">900-5h</text>
<line x1="94.5" y1="48.22" x2="112.4" y2="48.22" stroke="#10a010" stroke-width="1.8"/>
<text transform="translate(114.2,48.22)" x="0" y="2.88" font-size="8" fill="#000" stroke="#000" stroke-width="0.08">900-10h</text>
<line x1="94.5" y1="57.98" x2="112.4" y2="57.98" stroke="#2a4ae8" stroke-width="1.8"/>
<text transform="translate(114.2,57.98)" x="0" y="2.88" font-size="8" fill="#000" stroke="#000" stroke-width="0.08">1000-5h</text>
<line x1="94.5" y1="67.74" x2="112.4" y2="67.74" stroke="#ff6a3a" stroke-width="1.8"/>
<text transform="translate(114.2,67.74)" x="0" y="2.88" font-size="8" fill="#000" stroke="#000" stroke-width="0.08">1000-10h</text>
<line x1="94.5" y1="77.5" x2="112.4" y2="77.5" stroke="#6a2cf0" stroke-width="1.8"/>
<text transform="translate(114.2,77.5)" x="0" y="2.88" font-size="8" fill="#000" stroke="#000" stroke-width="0.08">1100-10h</text>
<line x1="147" y1="112.5" x2="165.2" y2="112.5" stroke="#c020d0" stroke-width="1.8"/>
<text transform="translate(166.7,112.5)" x="0" y="2.95" font-size="8.2" fill="#000" stroke="#000" stroke-width="0.08">PtC</text>
<polyline points="218.05,114.8 218.82,114.72 219.59,114.77 220.35,114.67 221.12,114.53 221.89,114.35 222.66,114.56 223.42,114.82 224.19,115.17 224.96,115.28 225.73,115.22 226.49,114.88 227.26,114.49 228.03,114.37 228.8,114.35 229.56,114.4 230.33,114.28 231.1,114.28 231.87,114.31 232.63,114.42 233.4,114.73 234.17,115.06 234.94,115.46 235.7,115.52 236.47,115.5 237.24,115.43 238.01,115.46 238.77,115.3 239.54,115 240.31,114.67 241.08,114.64 241.84,114.77 242.61,114.86 243.38,114.93 244.15,114.81 244.91,114.92 245.68,114.92 246.45,115.17 247.22,115.23 247.99,115.31 248.75,115.34 249.52,115.2 250.29,115.12 251.06,114.86 251.82,114.9 252.59,114.88 253.36,115.15 254.13,115.31 254.89,115.6 255.66,115.57 256.43,115.54 257.2,115.31 257.96,115.32 258.73,115.18 259.5,115.01 260.27,114.72 261.03,114.69 261.8,114.93 262.57,115.1 263.34,115.01 264.1,114.89 264.87,114.99 265.64,115.42 266.41,115.74 267.17,116 267.94,115.95 268.71,115.9 269.48,115.57 270.24,115.29 271.01,115.01 271.78,115.12 272.55,115.38 273.31,115.48 274.08,115.39 274.85,115.25 275.62,115.39 276.39,115.45 277.15,115.39 277.92,115.11 278.69,114.92 279.46,114.72 280.22,114.81 280.99,114.91 281.76,115.13 282.53,115.28 283.29,115.38 284.06,115.56 284.83,115.48 285.6,115.54 286.36,115.22 287.13,115.03 287.9,114.56 288.67,114.43 289.43,114.44 290.2,114.84 290.97,115.25 291.74,115.39 292.5,115.14 293.27,114.72 294.04,114.45 294.81,114.46 295.57,114.59 296.34,114.65 297.11,114.53 297.88,114.54 298.64,114.78 299.41,115.07 300.18,115.03 300.95,114.88 301.71,114.7 302.48,114.87 303.25,114.88 304.02,114.82 304.79,114.32 305.55,114.12 306.32,114.11 307.09,114.65 307.86,114.9 308.62,115.09 309.39,114.83 310.16,114.69 310.93,114.51 311.69,114.23 312.46,113.94 313.23,113.66 314,113.73 314.76,113.86 315.53,114.06 316.3,113.89 317.07,113.54 317.83,113 318.6,112.7 319.37,112.5 320.14,112.52 320.9,112.41 321.67,112.23 322.44,112.01 323.21,111.59 323.97,111.22 324.74,110.66 325.51,110.31 326.28,109.77 327.04,109.52 327.81,109.1 328.58,108.94 329.35,108.47 330.12,107.97 330.88,107.36 331.65,106.95 332.42,106.71 333.19,106.28 333.95,105.74 334.72,104.65 335.49,104.22 336.26,103.73 337.02,103.16 337.79,102.5 338.56,101.76 339.33,100.91 340.09,99.94 340.86,98.84 341.63,97.59 342.4,96.18 343.16,94.61 343.93,92.85 344.7,90.9 345.47,88.74 346.23,86.39 347,83.82 347.77,81.06 348.54,78.11 349.3,74.99 350.07,71.72 350.84,68.33 351.61,64.85 352.37,61.32 353.14,57.77 353.91,54.24 354.68,50.77 355.44,47.38 356.21,44.12 356.98,41 357.75,38.04 358.52,35.25 359.28,32.65 360.05,30.23 360.82,28 361.59,25.96 362.35,24.09 363.12,22.39 363.89,20.85 364.66,19.46 365.42,18.2 366.19,17.08 366.96,16.07 367.73,15.16 368.49,14.36 369.26,13.64 370.03,13 370.8,12.43 371.56,11.92 372.33,11.47 373.1,11.07 373.87,10.72 374.63,10.41 375.4,10.13 376.17,9.88 376.94,9.66 377.7,9.47 378.47,9.3 379.24,9.15 380.01,9.01 380.77,8.9 381.54,8.79 382.31,8.7 383.08,8.62 383.84,8.54 384.61,8.48 385.38,8.42 386.15,8.37" fill="none" stroke="#6a2cf0" stroke-width="1.5" stroke-linejoin="round" stroke-linecap="round"/>
<polyline points="218.05,105.66 218.82,105.63 219.59,105.6 220.35,105.57 221.12,105.54 221.89,105.51 222.66,105.48 223.42,105.45 224.19,105.41 224.96,105.38 225.73,105.35 226.49,105.32 227.26,105.29 228.03,105.26 228.8,105.23 229.56,105.2 230.33,105.16 231.1,105.13 231.87,105.1 232.63,105.07 233.4,105.04 234.17,105.01 234.94,104.98 235.7,104.95 236.47,104.92 237.24,104.88 238.01,104.85 238.77,104.82 239.54,104.79 240.31,104.76 241.08,104.73 241.84,104.7 242.61,104.67 243.38,104.63 244.15,104.6 244.91,104.57 245.68,104.54 246.45,104.51 247.22,104.48 247.99,104.45 248.75,104.42 249.52,104.38 250.29,104.35 251.06,104.32 251.82,104.29 252.59,104.26 253.36,104.23 254.13,104.2 254.89,104.17 255.66,104.13 256.43,104.1 257.2,104.07 257.96,104.04 258.73,104.01 259.5,103.98 260.27,103.95 261.03,103.92 261.8,103.89 262.57,103.85 263.34,103.82 264.1,103.79 264.87,103.76 265.64,103.73 266.41,103.7 267.17,103.67 267.94,103.64 268.71,103.6 269.48,103.57 270.24,103.54 271.01,103.51 271.78,103.48 272.55,103.45 273.31,103.42 274.08,103.39 274.85,103.35 275.62,103.32 276.39,103.29 277.15,103.26 277.92,103.23 278.69,103.2 279.46,103.17 280.22,103.14 280.99,103.11 281.76,103.07 282.53,103.04 283.29,103.01 284.06,102.98 284.83,102.95 285.6,102.92 286.36,102.89 287.13,102.86 287.9,102.82 288.67,102.79 289.43,102.76 290.2,102.73 290.97,102.7 291.74,102.67 292.5,102.64 293.27,102.61 294.04,102.57 294.81,102.54 295.57,102.51 296.34,102.48 297.11,102.45 297.88,102.42 298.64,102.39 299.41,102.35 300.18,102.32 300.95,102.29 301.71,102.26 302.48,102.23 303.25,102.2 304.02,102.16 304.79,102.13 305.55,102.1 306.32,102.07 307.09,102.03 307.86,102 308.62,101.97 309.39,101.93 310.16,101.9 310.93,101.87 311.69,101.95 312.46,102.06 313.23,102.16 314,102.27 314.76,102.37 315.53,102.48 316.3,102.58 317.07,102.68 317.83,102.78 318.6,102.87 319.37,102.97 320.14,103.06 320.9,103.15 321.67,103.23 322.44,103.31 323.21,103.38 323.97,103.45 324.74,103.51 325.51,103.56 326.28,103.6 327.04,103.63 327.81,103.65 328.58,103.65 329.35,103.63 330.12,103.59 330.88,103.52 331.65,103.43 332.42,103.3 333.19,103.14 333.95,102.93 334.72,102.61 335.49,102.19 336.26,101.69 337.02,101.13 337.79,100.48 338.56,99.73 339.33,98.88 340.09,97.9 340.86,96.79 341.63,95.54 342.4,94.13 343.16,92.54 343.93,90.77 344.7,88.81 345.47,86.64 346.23,84.28 347,81.71 347.77,78.95 348.54,76.01 349.3,72.91 350.07,69.66 350.84,66.31 351.61,62.87 352.37,59.4 353.14,55.92 353.91,52.46 354.68,49.08 355.44,45.79 356.21,42.62 356.98,39.6 357.75,36.74 358.52,34.05 359.28,31.55 360.05,29.22 360.82,27.09 361.59,25.13 362.35,23.34 363.12,21.71 363.89,20.24 364.66,18.91 365.42,17.72 366.19,16.64 366.96,15.68 367.73,14.82 368.49,14.05 369.26,13.37 370.03,12.76 370.8,12.22 371.56,11.74 372.33,11.31 373.1,10.93 373.87,10.59 374.63,10.29 375.4,10.03 376.17,9.79 376.94,9.58 377.7,9.4 378.47,9.24 379.24,9.09 380.01,8.97 380.77,8.85 381.54,8.75 382.31,8.67 383.08,8.59 383.84,8.52 384.61,8.46 385.38,8.4 386.15,8.36" fill="none" stroke="#ff0a18" stroke-width="1.5" stroke-linejoin="round" stroke-linecap="round"/>
<polyline points="218.05,108.35 218.82,108.3 219.59,108.25 220.35,108.21 221.12,108.16 221.89,108.11 222.66,108.07 223.42,108.02 224.19,107.97 224.96,107.93 225.73,107.88 226.49,107.83 227.26,107.79 228.03,107.74 228.8,107.69 229.56,107.65 230.33,107.6 231.1,107.55 231.87,107.51 232.63,107.46 233.4,107.41 234.17,107.37 234.94,107.32 235.7,107.27 236.47,107.23 237.24,107.18 238.01,107.13 238.77,107.08 239.54,107.04 240.31,106.99 241.08,106.94 241.84,106.9 242.61,106.85 243.38,106.8 244.15,106.76 244.91,106.71 245.68,106.66 246.45,106.62 247.22,106.57 247.99,106.52 248.75,106.48 249.52,106.43 250.29,106.38 251.06,106.34 251.82,106.29 252.59,106.24 253.36,106.2 254.13,106.15 254.89,106.1 255.66,106.05 256.43,106.01 257.2,105.96 257.96,105.91 258.73,105.87 259.5,105.82 260.27,105.77 261.03,105.73 261.8,105.68 262.57,105.63 263.34,105.59 264.1,105.54 264.87,105.49 265.64,105.45 266.41,105.4 267.17,105.35 267.94,105.31 268.71,105.26 269.48,105.21 270.24,105.17 271.01,105.12 271.78,105.07 272.55,105.03 273.31,104.98 274.08,104.93 274.85,104.88 275.62,104.84 276.39,104.79 277.15,104.74 277.92,104.7 278.69,104.65 279.46,104.6 280.22,104.56 280.99,104.51 281.76,104.46 282.53,104.42 283.29,104.37 284.06,104.32 284.83,104.28 285.6,104.23 286.36,104.18 287.13,104.14 287.9,104.09 288.67,104.04 289.43,104 290.2,103.95 290.97,103.9 291.74,103.85 292.5,103.81 293.27,103.76 294.04,103.71 294.81,103.67 295.57,103.62 296.34,103.57 297.11,103.53 297.88,103.48 298.64,103.43 299.41,103.39 300.18,103.34 300.95,103.29 301.71,103.24 302.48,103.2 303.25,103.15 304.02,103.1 304.79,103.06 305.55,103.01 306.32,102.96 307.09,102.91 307.86,102.86 308.62,102.82 309.39,102.77 310.16,102.72 310.93,102.67 311.69,102.68 312.46,102.69 313.23,102.71 314,102.72 314.76,102.74 315.53,102.75 316.3,102.76 317.07,102.78 317.83,102.78 318.6,102.79 319.37,102.8 320.14,102.8 320.9,102.8 321.67,102.79 322.44,102.78 323.21,102.77 323.97,102.74 324.74,102.71 325.51,102.67 326.28,102.62 327.04,102.56 327.81,102.48 328.58,102.38 329.35,102.25 330.12,102.11 330.88,101.93 331.65,101.71 332.42,101.46 333.19,101.15 333.95,100.78 334.72,100.33 335.49,99.8 336.26,99.17 337.02,98.44 337.79,97.58 338.56,96.59 339.33,95.44 340.09,94.11 340.86,92.59 341.63,90.85 342.4,88.89 343.16,86.69 343.93,84.24 344.7,81.54 345.47,78.59 346.23,75.41 347,72.02 347.77,68.45 348.54,64.74 349.3,60.94 350.07,57.1 350.84,53.27 351.61,49.5 352.37,45.83 353.14,42.31 353.91,38.96 354.68,35.82 355.44,32.89 356.21,30.19 356.98,27.72 357.75,25.47 358.52,23.44 359.28,21.61 360.05,19.98 360.82,18.52 361.59,17.23 362.35,16.09 363.12,15.08 363.89,14.19 364.66,13.41 365.42,12.72 366.19,12.12 366.96,11.6 367.73,11.13 368.49,10.73 369.26,10.38 370.03,10.07 370.8,9.8 371.56,9.57 372.33,9.37 373.1,9.19 373.87,9.03 374.63,8.9 375.4,8.78 376.17,8.68 376.94,8.59 377.7,8.51 378.47,8.45 379.24,8.39 380.01,8.34 380.77,8.29 381.54,8.25 382.31,8.22 383.08,8.19 383.84,8.16 384.61,8.14 385.38,8.12 386.15,8.11" fill="none" stroke="#10a010" stroke-width="1.5" stroke-linejoin="round" stroke-linecap="round"/>
<polyline points="218.05,103.38 218.82,103.36 219.59,103.35 220.35,103.33 221.12,103.31 221.89,103.3 222.66,103.28 223.42,103.27 224.19,103.25 224.96,103.24 225.73,103.22 226.49,103.2 227.26,103.19 228.03,103.17 228.8,103.16 229.56,103.14 230.33,103.13 231.1,103.11 231.87,103.1 232.63,103.08 233.4,103.06 234.17,103.05 234.94,103.03 235.7,103.02 236.47,103 237.24,102.99 238.01,102.97 238.77,102.96 239.54,102.94 240.31,102.92 241.08,102.91 241.84,102.89 242.61,102.88 243.38,102.86 244.15,102.85 244.91,102.83 245.68,102.81 246.45,102.8 247.22,102.78 247.99,102.77 248.75,102.75 249.52,102.74 250.29,102.72 251.06,102.71 251.82,102.69 252.59,102.67 253.36,102.66 254.13,102.64 254.89,102.63 255.66,102.61 256.43,102.6 257.2,102.58 257.96,102.57 258.73,102.55 259.5,102.53 260.27,102.52 261.03,102.5 261.8,102.49 262.57,102.47 263.34,102.46 264.1,102.44 264.87,102.42 265.64,102.41 266.41,102.39 267.17,102.38 267.94,102.36 268.71,102.35 269.48,102.33 270.24,102.32 271.01,102.3 271.78,102.28 272.55,102.27 273.31,102.25 274.08,102.24 274.85,102.22 275.62,102.21 276.39,102.19 277.15,102.18 277.92,102.16 278.69,102.14 279.46,102.13 280.22,102.11 280.99,102.1 281.76,102.08 282.53,102.07 283.29,102.05 284.06,102.03 284.83,102.02 285.6,102 286.36,101.99 287.13,101.97 287.9,101.96 288.67,101.94 289.43,101.93 290.2,101.91 290.97,101.89 291.74,101.88 292.5,101.86 293.27,101.85 294.04,101.83 294.81,101.82 295.57,101.8 296.34,101.78 297.11,101.77 297.88,101.75 298.64,101.74 299.41,101.72 300.18,101.71 300.95,101.69 301.71,101.68 302.48,101.66 303.25,101.64 304.02,101.63 304.79,101.61 305.55,101.6 306.32,101.58 307.09,101.56 307.86,101.55 308.62,101.53 309.39,101.51 310.16,101.5 310.93,101.48 311.69,101.52 312.46,101.57 313.23,101.62 314,101.67 314.76,101.72 315.53,101.77 316.3,101.81 317.07,101.86 317.83,101.9 318.6,101.95 319.37,101.99 320.14,102.02 320.9,102.06 321.67,102.09 322.44,102.11 323.21,102.13 323.97,102.14 324.74,102.14 325.51,102.13 326.28,102.11 327.04,102.07 327.81,102.01 328.58,101.92 329.35,101.8 330.12,101.65 330.88,101.45 331.65,101.19 332.42,100.87 333.19,100.47 333.95,99.98 334.72,99.34 335.49,98.55 336.26,97.59 337.02,96.46 337.79,95.11 338.56,93.53 339.33,91.67 340.09,89.52 340.86,87.04 341.63,84.23 342.4,81.08 343.16,77.6 343.93,73.81 344.7,69.76 345.47,65.49 346.23,61.09 347,56.62 347.77,52.17 348.54,47.82 349.3,43.63 350.07,39.67 350.84,35.98 351.61,32.58 352.37,29.48 353.14,26.7 353.91,24.21 354.68,22.01 355.44,20.08 356.21,18.38 356.98,16.91 357.75,15.64 358.52,14.53 359.28,13.58 360.05,12.77 360.82,12.07 361.59,11.47 362.35,10.96 363.12,10.52 363.89,10.14 364.66,9.82 365.42,9.55 366.19,9.32 366.96,9.12 367.73,8.95 368.49,8.81 369.26,8.69 370.03,8.58 370.8,8.5 371.56,8.42 372.33,8.36 373.1,8.3 373.87,8.26 374.63,8.22 375.4,8.18 376.17,8.15 376.94,8.13 377.7,8.11 378.47,8.09 379.24,8.08 380.01,8.06 380.77,8.05 381.54,8.04 382.31,8.04 383.08,8.03 383.84,8.02 384.61,8.02 385.38,8.02 386.15,8.01" fill="none" stroke="#2a3fc0" stroke-width="1.5" stroke-linejoin="round" stroke-linecap="round"/>
<rect x="218.2" y="2" width="168" height="124.1" fill="none" stroke="#737879" stroke-width="1.3"/>
<line x1="218.2" y1="126.1" x2="386.2" y2="126.1" stroke="#5a62b4" stroke-width="1.3"/>
<line x1="229.68" y1="126.1" x2="229.68" y2="124" stroke="#5a62b4" stroke-width="1.2"/>
<line x1="229.68" y1="2" x2="229.68" y2="4.1" stroke="#737879" stroke-width="1.0"/>
<line x1="241.3" y1="126.1" x2="241.3" y2="122.6" stroke="#5a62b4" stroke-width="1.2"/>
<line x1="241.3" y1="2" x2="241.3" y2="5.5" stroke="#737879" stroke-width="1.0"/>
<line x1="252.93" y1="126.1" x2="252.93" y2="124" stroke="#5a62b4" stroke-width="1.2"/>
<line x1="252.93" y1="2" x2="252.93" y2="4.1" stroke="#737879" stroke-width="1.0"/>
<line x1="264.55" y1="126.1" x2="264.55" y2="122.6" stroke="#5a62b4" stroke-width="1.2"/>
<line x1="264.55" y1="2" x2="264.55" y2="5.5" stroke="#737879" stroke-width="1.0"/>
<line x1="276.18" y1="126.1" x2="276.18" y2="124" stroke="#5a62b4" stroke-width="1.2"/>
<line x1="276.18" y1="2" x2="276.18" y2="4.1" stroke="#737879" stroke-width="1.0"/>
<line x1="287.8" y1="126.1" x2="287.8" y2="122.6" stroke="#5a62b4" stroke-width="1.2"/>
<line x1="287.8" y1="2" x2="287.8" y2="5.5" stroke="#737879" stroke-width="1.0"/>
<line x1="299.43" y1="126.1" x2="299.43" y2="124" stroke="#5a62b4" stroke-width="1.2"/>
<line x1="299.43" y1="2" x2="299.43" y2="4.1" stroke="#737879" stroke-width="1.0"/>
<line x1="311.05" y1="126.1" x2="311.05" y2="122.6" stroke="#5a62b4" stroke-width="1.2"/>
<line x1="311.05" y1="2" x2="311.05" y2="5.5" stroke="#737879" stroke-width="1.0"/>
<line x1="322.68" y1="126.1" x2="322.68" y2="124" stroke="#5a62b4" stroke-width="1.2"/>
<line x1="322.68" y1="2" x2="322.68" y2="4.1" stroke="#737879" stroke-width="1.0"/>
<line x1="334.3" y1="126.1" x2="334.3" y2="122.6" stroke="#5a62b4" stroke-width="1.2"/>
<line x1="334.3" y1="2" x2="334.3" y2="5.5" stroke="#737879" stroke-width="1.0"/>
<line x1="345.93" y1="126.1" x2="345.93" y2="124" stroke="#5a62b4" stroke-width="1.2"/>
<line x1="345.93" y1="2" x2="345.93" y2="4.1" stroke="#737879" stroke-width="1.0"/>
<line x1="357.55" y1="126.1" x2="357.55" y2="122.6" stroke="#5a62b4" stroke-width="1.2"/>
<line x1="357.55" y1="2" x2="357.55" y2="5.5" stroke="#737879" stroke-width="1.0"/>
<line x1="369.18" y1="126.1" x2="369.18" y2="124" stroke="#5a62b4" stroke-width="1.2"/>
<line x1="369.18" y1="2" x2="369.18" y2="4.1" stroke="#737879" stroke-width="1.0"/>
<line x1="380.8" y1="126.1" x2="380.8" y2="122.6" stroke="#5a62b4" stroke-width="1.2"/>
<line x1="380.8" y1="2" x2="380.8" y2="5.5" stroke="#737879" stroke-width="1.0"/>
<line x1="218.2" y1="7" x2="221.7" y2="7" stroke="#737879" stroke-width="1.0"/>
<line x1="386.2" y1="7" x2="382.7" y2="7" stroke="#737879" stroke-width="1.0"/>
<line x1="218.2" y1="16.93" x2="220.3" y2="16.93" stroke="#737879" stroke-width="1.0"/>
<line x1="386.2" y1="16.93" x2="384.1" y2="16.93" stroke="#737879" stroke-width="1.0"/>
<line x1="218.2" y1="26.85" x2="221.7" y2="26.85" stroke="#737879" stroke-width="1.0"/>
<line x1="386.2" y1="26.85" x2="382.7" y2="26.85" stroke="#737879" stroke-width="1.0"/>
<line x1="218.2" y1="36.78" x2="220.3" y2="36.78" stroke="#737879" stroke-width="1.0"/>
<line x1="386.2" y1="36.78" x2="384.1" y2="36.78" stroke="#737879" stroke-width="1.0"/>
<line x1="218.2" y1="46.7" x2="221.7" y2="46.7" stroke="#737879" stroke-width="1.0"/>
<line x1="386.2" y1="46.7" x2="382.7" y2="46.7" stroke="#737879" stroke-width="1.0"/>
<line x1="218.2" y1="56.62" x2="220.3" y2="56.62" stroke="#737879" stroke-width="1.0"/>
<line x1="386.2" y1="56.62" x2="384.1" y2="56.62" stroke="#737879" stroke-width="1.0"/>
<line x1="218.2" y1="66.55" x2="221.7" y2="66.55" stroke="#737879" stroke-width="1.0"/>
<line x1="386.2" y1="66.55" x2="382.7" y2="66.55" stroke="#737879" stroke-width="1.0"/>
<line x1="218.2" y1="76.48" x2="220.3" y2="76.48" stroke="#737879" stroke-width="1.0"/>
<line x1="386.2" y1="76.48" x2="384.1" y2="76.48" stroke="#737879" stroke-width="1.0"/>
<line x1="218.2" y1="86.4" x2="221.7" y2="86.4" stroke="#737879" stroke-width="1.0"/>
<line x1="386.2" y1="86.4" x2="382.7" y2="86.4" stroke="#737879" stroke-width="1.0"/>
<line x1="218.2" y1="96.33" x2="220.3" y2="96.33" stroke="#737879" stroke-width="1.0"/>
<line x1="386.2" y1="96.33" x2="384.1" y2="96.33" stroke="#737879" stroke-width="1.0"/>
<line x1="218.2" y1="106.25" x2="221.7" y2="106.25" stroke="#737879" stroke-width="1.0"/>
<line x1="386.2" y1="106.25" x2="382.7" y2="106.25" stroke="#737879" stroke-width="1.0"/>
<line x1="218.2" y1="116.18" x2="220.3" y2="116.18" stroke="#737879" stroke-width="1.0"/>
<line x1="386.2" y1="116.18" x2="384.1" y2="116.18" stroke="#737879" stroke-width="1.0"/>
<line x1="218.2" y1="126.1" x2="221.7" y2="126.1" stroke="#737879" stroke-width="1.0"/>
<line x1="386.2" y1="126.1" x2="382.7" y2="126.1" stroke="#737879" stroke-width="1.0"/>
<text transform="translate(219.05,134) scale(1.0800,1)" x="0" y="2.71" font-size="7.54" fill="#000" stroke="#000" stroke-width="0.08" text-anchor="middle">-0.7</text>
<text transform="translate(242.3,134) scale(1.0800,1)" x="0" y="2.71" font-size="7.54" fill="#000" stroke="#000" stroke-width="0.08" text-anchor="middle">-0.6</text>
<text transform="translate(265.55,134) scale(1.0800,1)" x="0" y="2.71" font-size="7.54" fill="#000" stroke="#000" stroke-width="0.08" text-anchor="middle">-0.5</text>
<text transform="translate(288.8,134) scale(1.0800,1)" x="0" y="2.71" font-size="7.54" fill="#000" stroke="#000" stroke-width="0.08" text-anchor="middle">-0.4</text>
<text transform="translate(312.05,134) scale(1.0800,1)" x="0" y="2.71" font-size="7.54" fill="#000" stroke="#000" stroke-width="0.08" text-anchor="middle">-0.3</text>
<text transform="translate(335.3,134) scale(1.0800,1)" x="0" y="2.71" font-size="7.54" fill="#000" stroke="#000" stroke-width="0.08" text-anchor="middle">-0.2</text>
<text transform="translate(358.55,134) scale(1.0800,1)" x="0" y="2.71" font-size="7.54" fill="#000" stroke="#000" stroke-width="0.08" text-anchor="middle">-0.1</text>
<text transform="translate(379.8,134) scale(1.0800,1)" x="0" y="2.71" font-size="7.54" fill="#000" stroke="#000" stroke-width="0.08" text-anchor="middle">0.0</text>
<text transform="translate(215.8,7) scale(1.0800,1)" x="0" y="2.71" font-size="7.54" fill="#000" stroke="#000" stroke-width="0.08" text-anchor="end">0</text>
<text transform="translate(215.8,26.85) scale(1.0800,1)" x="0" y="2.71" font-size="7.54" fill="#000" stroke="#000" stroke-width="0.08" text-anchor="end">-1</text>
<text transform="translate(215.8,46.7) scale(1.0800,1)" x="0" y="2.71" font-size="7.54" fill="#000" stroke="#000" stroke-width="0.08" text-anchor="end">-2</text>
<text transform="translate(215.8,66.55) scale(1.0800,1)" x="0" y="2.71" font-size="7.54" fill="#000" stroke="#000" stroke-width="0.08" text-anchor="end">-3</text>
<text transform="translate(215.8,86.4) scale(1.0800,1)" x="0" y="2.71" font-size="7.54" fill="#000" stroke="#000" stroke-width="0.08" text-anchor="end">-4</text>
<text transform="translate(215.8,106.25) scale(1.0800,1)" x="0" y="2.71" font-size="7.54" fill="#000" stroke="#000" stroke-width="0.08" text-anchor="end">-5</text>
<text transform="translate(215.8,126.1) scale(1.0800,1)" x="0" y="2.71" font-size="7.54" fill="#000" stroke="#000" stroke-width="0.08" text-anchor="end">-6</text>
<text transform="translate(302.1,142.6) scale(1.0085,1)" x="0" y="3.02" font-size="8.4" fill="#000" stroke="#000" stroke-width="0.08" text-anchor="middle">Potential (V vs Ag/AgCl)</text>
<text transform="translate(202.2,63.8) rotate(-90) scale(1.0020,1)" x="0" y="3.02" font-size="8.4" fill="#000" stroke="#000" stroke-width="0" text-anchor="middle"><tspan font-size="8.4">Current density (mA cm</tspan><tspan font-size="5.46" dy="-3.36">-2</tspan><tspan font-size="8.4" dy="3.36">)</tspan></text>
<text transform="translate(193.8,135.1)" x="0" y="4.03" font-size="11.2" fill="#000" stroke="#000" stroke-width="0.08" font-weight="bold">(b)</text>
<text transform="translate(228.5,17.6) scale(0.9613,1)" x="0" y="3.17" font-size="8.8" fill="#000" stroke="#000" stroke-width="0.08"><tspan font-size="8.8">Co</tspan><tspan font-size="5.28" dy="2.64">3</tspan><tspan font-size="8.8" dy="-2.64">O</tspan><tspan font-size="5.28" dy="2.64">4</tspan><tspan font-size="8.8" dy="-2.64">/C</tspan></text>
<line x1="228" y1="30.5" x2="247.4" y2="30.5" stroke="#ff0a18" stroke-width="1.4"/>
<text transform="translate(250,30.5)" x="0" y="2.95" font-size="8.2" fill="#000" stroke="#000" stroke-width="0.08">900-2h</text>
<line x1="228" y1="40.6" x2="247.4" y2="40.6" stroke="#10a010" stroke-width="1.4"/>
<text transform="translate(250,40.6)" x="0" y="2.95" font-size="8.2" fill="#000" stroke="#000" stroke-width="0.08">900-5h</text>
<line x1="228" y1="50.7" x2="247.4" y2="50.7" stroke="#2a3fc0" stroke-width="1.4"/>
<text transform="translate(250,50.7)" x="0" y="2.95" font-size="8.2" fill="#000" stroke="#000" stroke-width="0.08">1000-5h</text>
<line x1="228" y1="60.8" x2="247.4" y2="60.8" stroke="#6a2cf0" stroke-width="1.4"/>
<text transform="translate(250,60.8)" x="0" y="2.95" font-size="8.2" fill="#000" stroke="#000" stroke-width="0.08">PtC</text>
<text transform="translate(285.4,16.6) scale(1.0106,1)" x="0" y="3.96" font-size="11" fill="#000" stroke="#000" stroke-width="0.08"><tspan font-size="11">Co</tspan><tspan font-size="7.92" dy="2.64">25</tspan><tspan font-size="11" dy="-2.64">Zn</tspan><tspan font-size="7.92" dy="2.64">75</tspan><tspan font-size="11" dy="-2.64">–C</tspan></text>
<polyline points="22.4,274 23.54,274 24.68,274 25.82,274 26.96,274 28.09,274 29.23,274 30.37,274 31.51,274 32.65,274 33.79,274 34.93,274 36.07,274 37.21,274 38.34,274 39.48,274 40.62,274 41.76,274 42.9,274 44.04,273.99 45.18,273.99 46.32,273.99 47.45,273.99 48.59,273.99 49.73,273.99 50.87,273.99 52.01,273.99 53.15,273.99 54.29,273.99 55.43,273.99 56.57,273.99 57.7,273.99 58.84,273.99 59.98,273.99 61.12,273.99 62.26,273.99 63.4,273.99 64.54,273.99 65.68,273.99 66.82,273.99 67.95,273.98 69.09,273.98 70.23,273.98 71.37,273.98 72.51,273.98 73.65,273.98 74.79,273.97 75.93,273.97 77.07,273.97 78.2,273.96 79.34,273.96 80.48,273.96 81.62,273.95 82.76,273.95 83.9,273.94 85.04,273.93 86.18,273.93 87.31,273.92 88.45,273.91 89.59,273.9 90.73,273.89 91.87,273.88 93.01,273.87 94.15,273.85 95.29,273.84 96.43,273.82 97.56,273.8 98.7,273.78 99.84,273.76 100.98,273.73 102.12,273.7 103.26,273.67 104.4,273.63 105.54,273.6 106.68,273.55 107.81,273.51 108.95,273.46 110.09,273.4 111.23,273.34 112.37,273.28 113.51,273.21 114.65,273.13 115.79,273.05 116.93,272.96 118.06,272.87 119.2,272.77 120.34,272.66 121.48,272.54 122.62,272.42 123.76,272.29 124.9,272.15 126.04,272.01 127.18,271.86 128.31,271.7 129.45,271.54 130.59,271.37 131.73,271.19 132.87,271.01 134.01,270.82 135.15,270.63 136.29,270.43 137.42,270.23 138.56,270.02 139.7,269.81 140.84,269.59 141.98,269.38 143.12,269.16 144.26,268.93 145.4,268.71 146.54,268.48 147.67,268.25 148.81,268.02 149.95,267.79 151.09,267.56 152.23,267.33 153.37,267.1 154.51,266.86 155.65,266.63 156.79,266.4 157.92,266.16 159.06,265.93 160.2,265.7 161.34,265.47 162.48,265.23 163.62,265 164.76,264.77 165.9,264.54 167.04,264.32 168.17,264.09 169.31,263.86 170.45,263.64 171.59,263.41 172.73,263.19 173.87,262.97 175.01,262.75 176.15,262.53 177.28,262.31 178.42,262.09 179.56,261.87 180.7,261.66 181.84,261.45 182.98,261.23 184.12,261.02 185.26,260.81 186.4,260.6 187.53,260.4 188.67,260.19 189.81,259.99 190.95,259.78 192.09,259.58" fill="none" stroke="#111111" stroke-width="1.6" stroke-linejoin="round" stroke-linecap="round"/>
<polyline points="22.4,273.95 23.54,273.95 24.68,273.95 25.82,273.95 26.96,273.95 28.09,273.95 29.23,273.95 30.37,273.95 31.51,273.95 32.65,273.95 33.79,273.95 34.93,273.95 36.07,273.95 37.21,273.95 38.34,273.95 39.48,273.95 40.62,273.95 41.76,273.95 42.9,273.95 44.04,273.95 45.18,273.95 46.32,273.95 47.45,273.95 48.59,273.95 49.73,273.95 50.87,273.95 52.01,273.95 53.15,273.95 54.29,273.95 55.43,273.95 56.57,273.95 57.7,273.95 58.84,273.95 59.98,273.95 61.12,273.95 62.26,273.95 63.4,273.95 64.54,273.95 65.68,273.95 66.82,273.95 67.95,273.95 69.09,273.95 70.23,273.95 71.37,273.95 72.51,273.95 73.65,273.95 74.79,273.95 75.93,273.95 77.07,273.95 78.2,273.95 79.34,273.95 80.48,273.95 81.62,273.95 82.76,273.94 83.9,273.94 85.04,273.94 86.18,273.94 87.31,273.94 88.45,273.93 89.59,273.93 90.73,273.93 91.87,273.92 93.01,273.91 94.15,273.91 95.29,273.9 96.43,273.89 97.56,273.87 98.7,273.86 99.84,273.84 100.98,273.82 102.12,273.8 103.26,273.77 104.4,273.74 105.54,273.7 106.68,273.65 107.81,273.6 108.95,273.54 110.09,273.48 111.23,273.41 112.37,273.33 113.51,273.24 114.65,273.14 115.79,273.03 116.93,272.91 118.06,272.79 119.2,272.66 120.34,272.52 121.48,272.37 122.62,272.21 123.76,272.05 124.9,271.87 126.04,271.7 127.18,271.51 128.31,271.32 129.45,271.13 130.59,270.92 131.73,270.72 132.87,270.5 134.01,270.29 135.15,270.06 136.29,269.84 137.42,269.6 138.56,269.37 139.7,269.13 140.84,268.88 141.98,268.63 143.12,268.37 144.26,268.11 145.4,267.85 146.54,267.58 147.67,267.31 148.81,267.03 149.95,266.75 151.09,266.46 152.23,266.17 153.37,265.88 154.51,265.58 155.65,265.28 156.79,264.97 157.92,264.66 159.06,264.34 160.2,264.02 161.34,263.7 162.48,263.37 163.62,263.04 164.76,262.7 165.9,262.36 167.04,262.02 168.17,261.67 169.31,261.32 170.45,260.96 171.59,260.6 172.73,260.23 173.87,259.86 175.01,259.49 176.15,259.11 177.28,258.73 178.42,258.34 179.56,257.95 180.7,257.55 181.84,257.15 182.98,256.75 184.12,256.34 185.26,255.93 186.4,255.51 187.53,255.09 188.67,254.67 189.81,254.24 190.95,253.81 192.09,253.37" fill="none" stroke="#c020d0" stroke-width="1.6" stroke-linejoin="round" stroke-linecap="round"/>
<polyline points="22.4,273.76 23.54,273.75 24.68,273.75 25.82,273.74 26.96,273.74 28.09,273.73 29.23,273.72 30.37,273.72 31.51,273.71 32.65,273.7 33.79,273.69 34.93,273.69 36.07,273.68 37.21,273.67 38.34,273.66 39.48,273.65 40.62,273.64 41.76,273.63 42.9,273.62 44.04,273.6 45.18,273.59 46.32,273.58 47.45,273.56 48.59,273.55 49.73,273.53 50.87,273.52 52.01,273.5 53.15,273.48 54.29,273.46 55.43,273.44 56.57,273.42 57.7,273.4 58.84,273.38 59.98,273.36 61.12,273.33 62.26,273.31 63.4,273.28 64.54,273.25 65.68,273.22 66.82,273.19 67.95,273.16 69.09,273.12 70.23,273.09 71.37,273.05 72.51,273.01 73.65,272.97 74.79,272.92 75.93,272.88 77.07,272.83 78.2,272.78 79.34,272.73 80.48,272.67 81.62,272.62 82.76,272.56 83.9,272.49 85.04,272.43 86.18,272.36 87.31,272.28 88.45,272.21 89.59,272.13 90.73,272.05 91.87,271.96 93.01,271.87 94.15,271.77 95.29,271.67 96.43,271.57 97.56,271.46 98.7,271.35 99.84,271.23 100.98,271.11 102.12,270.98 103.26,270.84 104.4,270.7 105.54,270.55 106.68,270.4 107.81,270.24 108.95,270.07 110.09,269.9 111.23,269.72 112.37,269.53 113.51,269.33 114.65,269.12 115.79,268.91 116.93,268.69 118.06,268.46 119.2,268.22 120.34,267.97 121.48,267.71 122.62,267.44 123.76,267.16 124.9,266.87 126.04,266.56 127.18,266.25 128.31,265.93 129.45,265.59 130.59,265.25 131.73,264.89 132.87,264.52 134.01,264.14 135.15,263.74 136.29,263.33 137.42,262.92 138.56,262.48 139.7,262.04 140.84,261.58 141.98,261.11 143.12,260.63 144.26,260.14 145.4,259.63 146.54,259.12 147.67,258.59 148.81,258.05 149.95,257.5 151.09,256.94 152.23,256.36 153.37,255.78 154.51,255.19 155.65,254.59 156.79,253.99 157.92,253.37 159.06,252.75 160.2,252.13 161.34,251.5 162.48,250.86 163.62,250.23 164.76,249.59 165.9,248.95 167.04,248.31 168.17,247.67 169.31,247.04 170.45,246.41 171.59,245.78 172.73,245.17 173.87,244.56 175.01,243.96 176.15,243.37 177.28,242.79 178.42,242.23 179.56,241.68 180.7,241.15 181.84,240.64 182.98,240.15 184.12,239.67 185.26,239.23 186.4,238.8 187.53,238.4 188.67,238.03 189.81,237.69 190.95,237.38 192.09,237.1" fill="none" stroke="#ff0a18" stroke-width="1.6" stroke-linejoin="round" stroke-linecap="round"/>
<polyline points="22.4,273.66 23.54,273.66 24.68,273.66 25.82,273.65 26.96,273.65 28.09,273.65 29.23,273.64 30.37,273.64 31.51,273.63 32.65,273.63 33.79,273.62 34.93,273.62 36.07,273.61 37.21,273.6 38.34,273.6 39.48,273.59 40.62,273.58 41.76,273.58 42.9,273.57 44.04,273.56 45.18,273.55 46.32,273.54 47.45,273.53 48.59,273.52 49.73,273.51 50.87,273.5 52.01,273.48 53.15,273.47 54.29,273.45 55.43,273.44 56.57,273.42 57.7,273.4 58.84,273.39 59.98,273.37 61.12,273.35 62.26,273.32 63.4,273.3 64.54,273.28 65.68,273.25 66.82,273.22 67.95,273.19 69.09,273.16 70.23,273.13 71.37,273.09 72.51,273.06 73.65,273.02 74.79,272.98 75.93,272.93 77.07,272.89 78.2,272.84 79.34,272.79 80.48,272.73 81.62,272.68 82.76,272.62 83.9,272.55 85.04,272.48 86.18,272.41 87.31,272.34 88.45,272.26 89.59,272.17 90.73,272.08 91.87,271.99 93.01,271.89 94.15,271.78 95.29,271.67 96.43,271.56 97.56,271.43 98.7,271.3 99.84,271.17 100.98,271.02 102.12,270.87 103.26,270.71 104.4,270.54 105.54,270.37 106.68,270.18 107.81,269.99 108.95,269.79 110.09,269.57 111.23,269.35 112.37,269.11 113.51,268.87 114.65,268.61 115.79,268.34 116.93,268.06 118.06,267.76 119.2,267.46 120.34,267.14 121.48,266.8 122.62,266.46 123.76,266.09 124.9,265.72 126.04,265.33 127.18,264.92 128.31,264.5 129.45,264.06 130.59,263.61 131.73,263.15 132.87,262.66 134.01,262.17 135.15,261.65 136.29,261.12 137.42,260.58 138.56,260.02 139.7,259.45 140.84,258.86 141.98,258.26 143.12,257.64 144.26,257.01 145.4,256.37 146.54,255.71 147.67,255.04 148.81,254.36 149.95,253.67 151.09,252.96 152.23,252.25 153.37,251.53 154.51,250.8 155.65,250.06 156.79,249.31 157.92,248.56 159.06,247.8 160.2,247.04 161.34,246.27 162.48,245.49 163.62,244.72 164.76,243.94 165.9,243.16 167.04,242.38 168.17,241.6 169.31,240.82 170.45,240.05 171.59,239.27 172.73,238.5 173.87,237.73 175.01,236.96 176.15,236.2 177.28,235.45 178.42,234.7 179.56,233.96 180.7,233.22 181.84,232.5 182.98,231.78 184.12,231.06 185.26,230.36 186.4,229.67 187.53,228.99 188.67,228.31 189.81,227.65 190.95,227 192.09,226.36" fill="none" stroke="#10a010" stroke-width="1.6" stroke-linejoin="round" stroke-linecap="round"/>
<polyline points="22.4,273.99 23.54,273.97 24.68,273.95 25.82,273.93 26.96,273.91 28.09,273.89 29.23,273.87 30.37,273.85 31.51,273.83 32.65,273.81 33.79,273.79 34.93,273.77 36.07,273.75 37.21,273.73 38.34,273.7 39.48,273.68 40.62,273.66 41.76,273.63 42.9,273.61 44.04,273.58 45.18,273.56 46.32,273.53 47.45,273.5 48.59,273.47 49.73,273.44 50.87,273.41 52.01,273.38 53.15,273.35 54.29,273.31 55.43,273.27 56.57,273.23 57.7,273.19 58.84,273.15 59.98,273.1 61.12,273.05 62.26,272.99 63.4,272.94 64.54,272.87 65.68,272.81 66.82,272.74 67.95,272.66 69.09,272.58 70.23,272.49 71.37,272.39 72.51,272.29 73.65,272.18 74.79,272.06 75.93,271.92 77.07,271.78 78.2,271.63 79.34,271.46 80.48,271.3 81.62,271.12 82.76,270.92 83.9,270.71 85.04,270.47 86.18,270.22 87.31,269.94 88.45,269.64 89.59,269.32 90.73,268.96 91.87,268.58 93.01,268.17 94.15,267.73 95.29,267.26 96.43,266.75 97.56,266.21 98.7,265.63 99.84,265.01 100.98,264.35 102.12,263.66 103.26,262.93 104.4,262.15 105.54,261.34 106.68,260.49 107.81,259.6 108.95,258.67 110.09,257.7 111.23,256.69 112.37,255.65 113.51,254.58 114.65,253.47 115.79,252.33 116.93,251.16 118.06,249.96 119.2,248.73 120.34,247.48 121.48,246.21 122.62,244.92 123.76,243.61 124.9,242.29 126.04,240.95 127.18,239.6 128.31,238.25 129.45,236.89 130.59,235.52 131.73,234.16 132.87,232.81 134.01,231.45 135.15,230.11 136.29,228.79 137.42,227.47 138.56,226.18 139.7,224.9 140.84,223.64 141.98,222.4 143.12,221.18 144.26,219.98 145.4,218.79 146.54,217.62 147.67,216.47 148.81,215.33 149.95,214.2 151.09,213.08 152.23,211.96 153.37,210.86 154.51,209.76 155.65,208.66 156.79,207.57 157.92,206.48 159.06,205.39 160.2,204.31 161.34,203.23 162.48,202.14 163.62,201.06 164.76,199.98 165.9,198.9 167.04,197.82 168.17,196.74 169.31,195.66 170.45,194.58 171.59,193.5 172.73,192.43 173.87,191.35 175.01,190.27 176.15,189.19 177.28,188.11 178.42,187.03 179.56,185.95 180.7,184.87 181.84,183.78 182.98,182.7 184.12,181.62 185.26,180.54 186.4,179.46 187.53,178.38 188.67,177.3 189.81,176.22 190.95,175.14 192.09,174.06" fill="none" stroke="#2a4ae8" stroke-width="1.6" stroke-linejoin="round" stroke-linecap="round"/>
<polyline points="22.4,273.99 23.54,273.97 24.68,273.95 25.82,273.93 26.96,273.91 28.09,273.89 29.23,273.87 30.37,273.85 31.51,273.83 32.65,273.81 33.79,273.79 34.93,273.77 36.07,273.75 37.21,273.73 38.34,273.7 39.48,273.68 40.62,273.66 41.76,273.63 42.9,273.61 44.04,273.58 45.18,273.56 46.32,273.53 47.45,273.5 48.59,273.47 49.73,273.44 50.87,273.41 52.01,273.38 53.15,273.35 54.29,273.31 55.43,273.27 56.57,273.23 57.7,273.19 58.84,273.15 59.98,273.1 61.12,273.05 62.26,272.99 63.4,272.94 64.54,272.87 65.68,272.81 66.82,272.74 67.95,272.66 69.09,272.58 70.23,272.49 71.37,272.39 72.51,272.29 73.65,272.18 74.79,272.06 75.93,271.92 77.07,271.78 78.2,271.63 79.34,271.46 80.48,271.3 81.62,271.12 82.76,270.92 83.9,270.7 85.04,270.47 86.18,270.22 87.31,269.94 88.45,269.64 89.59,269.31 90.73,268.96 91.87,268.58 93.01,268.17 94.15,267.73 95.29,267.26 96.43,266.75 97.56,266.21 98.7,265.63 99.84,265.01 100.98,264.35 102.12,263.66 103.26,262.92 104.4,262.15 105.54,261.34 106.68,260.48 107.81,259.59 108.95,258.66 110.09,257.69 111.23,256.68 112.37,255.64 113.51,254.56 114.65,253.44 115.79,252.3 116.93,251.12 118.06,249.92 119.2,248.68 120.34,247.42 121.48,246.13 122.62,244.83 123.76,243.5 124.9,242.15 126.04,240.78 127.18,239.4 128.31,238 129.45,236.59 130.59,235.17 131.73,233.74 132.87,232.3 134.01,230.86 135.15,229.41 136.29,227.96 137.42,226.52 138.56,225.07 139.7,223.64 140.84,222.21 141.98,220.79 143.12,219.38 144.26,217.99 145.4,216.61 146.54,215.25 147.67,213.91 148.81,212.59 149.95,211.28 151.09,209.99 152.23,208.73 153.37,207.47 154.51,206.23 155.65,205.01 156.79,203.8 157.92,202.59 159.06,201.4 160.2,200.21 161.34,199.03 162.48,197.86 163.62,196.69 164.76,195.52 165.9,194.36 167.04,193.2 168.17,192.04 169.31,190.88 170.45,189.72 171.59,188.57 172.73,187.41 173.87,186.26 175.01,185.1 176.15,183.95 177.28,182.8 178.42,181.64 179.56,180.49 180.7,179.34 181.84,178.19 182.98,177.03 184.12,175.88 185.26,174.73 186.4,173.58 187.53,172.42 188.67,171.27 189.81,170.12 190.95,168.97 192.09,167.81" fill="none" stroke="#ff6a3a" stroke-width="1.6" stroke-linejoin="round" stroke-linecap="round"/>
<polyline points="22.4,273.99 23.54,273.97 24.68,273.95 25.82,273.93 26.96,273.91 28.09,273.89 29.23,273.87 30.37,273.85 31.51,273.83 32.65,273.81 33.79,273.79 34.93,273.77 36.07,273.75 37.21,273.73 38.34,273.7 39.48,273.68 40.62,273.66 41.76,273.63 42.9,273.61 44.04,273.58 45.18,273.56 46.32,273.53 47.45,273.5 48.59,273.47 49.73,273.44 50.87,273.41 52.01,273.38 53.15,273.35 54.29,273.31 55.43,273.27 56.57,273.23 57.7,273.19 58.84,273.15 59.98,273.1 61.12,273.05 62.26,272.99 63.4,272.94 64.54,272.87 65.68,272.81 66.82,272.74 67.95,272.66 69.09,272.58 70.23,272.49 71.37,272.39 72.51,272.29 73.65,272.18 74.79,272.06 75.93,271.92 77.07,271.78 78.2,271.63 79.34,271.46 80.48,271.3 81.62,271.12 82.76,270.92 83.9,270.7 85.04,270.47 86.18,270.22 87.31,269.94 88.45,269.64 89.59,269.31 90.73,268.96 91.87,268.58 93.01,268.17 94.15,267.73 95.29,267.26 96.43,266.75 97.56,266.2 98.7,265.62 99.84,265.01 100.98,264.35 102.12,263.66 103.26,262.92 104.4,262.15 105.54,261.34 106.68,260.48 107.81,259.59 108.95,258.66 110.09,257.69 111.23,256.68 112.37,255.63 113.51,254.55 114.65,253.44 115.79,252.29 116.93,251.11 118.06,249.9 119.2,248.67 120.34,247.4 121.48,246.11 122.62,244.8 123.76,243.46 124.9,242.11 126.04,240.73 127.18,239.33 128.31,237.92 129.45,236.5 130.59,235.06 131.73,233.6 132.87,232.13 134.01,230.66 135.15,229.17 136.29,227.67 137.42,226.16 138.56,224.65 139.7,223.13 140.84,221.6 141.98,220.07 143.12,218.53 144.26,216.98 145.4,215.44 146.54,213.88 147.67,212.33 148.81,210.77 149.95,209.2 151.09,207.64 152.23,206.07 153.37,204.5 154.51,202.92 155.65,201.35 156.79,199.77 157.92,198.19 159.06,196.61 160.2,195.03 161.34,193.45 162.48,191.87 163.62,190.28 164.76,188.7 165.9,187.11 167.04,185.53 168.17,183.94 169.31,182.35 170.45,180.76 171.59,179.18 172.73,177.59 173.87,176 175.01,174.41 176.15,172.82 177.28,171.23 178.42,169.64 179.56,168.04 180.7,166.45 181.84,164.86 182.98,163.27 184.12,161.68 185.26,160.09 186.4,158.49 187.53,156.9 188.67,155.31 189.81,153.72 190.95,152.13 192.09,150.53" fill="none" stroke="#6a2cf0" stroke-width="1.6" stroke-linejoin="round" stroke-linecap="round"/>
<polyline points="22.4,273.99 23.54,273.97 24.68,273.95 25.82,273.93 26.96,273.91 28.09,273.89 29.23,273.87 30.37,273.85 31.51,273.83 32.65,273.81 33.79,273.79 34.93,273.77 36.07,273.75 37.21,273.73 38.34,273.7 39.48,273.68 40.62,273.66 41.76,273.63 42.9,273.61 44.04,273.58 45.18,273.56 46.32,273.53 47.45,273.5 48.59,273.47 49.73,273.44 50.87,273.41 52.01,273.38 53.15,273.35 54.29,273.31 55.43,273.27 56.57,273.23 57.7,273.19 58.84,273.15 59.98,273.1 61.12,273.05 62.26,272.99 63.4,272.94 64.54,272.87 65.68,272.81 66.82,272.74 67.95,272.66 69.09,272.58 70.23,272.49 71.37,272.39 72.51,272.29 73.65,272.18 74.79,272.06 75.93,271.92 77.07,271.78 78.2,271.63 79.34,271.46 80.48,271.3 81.62,271.12 82.76,270.92 83.9,270.7 85.04,270.47 86.18,270.22 87.31,269.94 88.45,269.64 89.59,269.31 90.73,268.96 91.87,268.58 93.01,268.17 94.15,267.73 95.29,267.26" fill="none" stroke="#2a4ae8" stroke-width="1.8" stroke-linejoin="round" stroke-linecap="round"/>
<rect x="22.6" y="149.5" width="169.4" height="124.5" fill="none" stroke="#737879" stroke-width="1.3"/>
<line x1="36.6" y1="274" x2="36.6" y2="271.9" stroke="#737879" stroke-width="1.0"/>
<line x1="36.6" y1="149.5" x2="36.6" y2="151.6" stroke="#737879" stroke-width="1.0"/>
<line x1="50.8" y1="274" x2="50.8" y2="270.5" stroke="#737879" stroke-width="1.0"/>
<line x1="50.8" y1="149.5" x2="50.8" y2="153" stroke="#737879" stroke-width="1.0"/>
<line x1="65" y1="274" x2="65" y2="271.9" stroke="#737879" stroke-width="1.0"/>
<line x1="65" y1="149.5" x2="65" y2="151.6" stroke="#737879" stroke-width="1.0"/>
<line x1="79.2" y1="274" x2="79.2" y2="270.5" stroke="#737879" stroke-width="1.0"/>
<line x1="79.2" y1="149.5" x2="79.2" y2="153" stroke="#737879" stroke-width="1.0"/>
<line x1="93.4" y1="274" x2="93.4" y2="271.9" stroke="#737879" stroke-width="1.0"/>
<line x1="93.4" y1="149.5" x2="93.4" y2="151.6" stroke="#737879" stroke-width="1.0"/>
<line x1="107.6" y1="274" x2="107.6" y2="270.5" stroke="#737879" stroke-width="1.0"/>
<line x1="107.6" y1="149.5" x2="107.6" y2="153" stroke="#737879" stroke-width="1.0"/>
<line x1="121.8" y1="274" x2="121.8" y2="271.9" stroke="#737879" stroke-width="1.0"/>
<line x1="121.8" y1="149.5" x2="121.8" y2="151.6" stroke="#737879" stroke-width="1.0"/>
<line x1="136" y1="274" x2="136" y2="270.5" stroke="#737879" stroke-width="1.0"/>
<line x1="136" y1="149.5" x2="136" y2="153" stroke="#737879" stroke-width="1.0"/>
<line x1="150.2" y1="274" x2="150.2" y2="271.9" stroke="#737879" stroke-width="1.0"/>
<line x1="150.2" y1="149.5" x2="150.2" y2="151.6" stroke="#737879" stroke-width="1.0"/>
<line x1="164.4" y1="274" x2="164.4" y2="270.5" stroke="#737879" stroke-width="1.0"/>
<line x1="164.4" y1="149.5" x2="164.4" y2="153" stroke="#737879" stroke-width="1.0"/>
<line x1="178.6" y1="274" x2="178.6" y2="271.9" stroke="#737879" stroke-width="1.0"/>
<line x1="178.6" y1="149.5" x2="178.6" y2="151.6" stroke="#737879" stroke-width="1.0"/>
<line x1="22.6" y1="274" x2="26.1" y2="274" stroke="#737879" stroke-width="1.0"/>
<line x1="192" y1="274" x2="188.5" y2="274" stroke="#737879" stroke-width="1.0"/>
<line x1="22.6" y1="259.18" x2="24.7" y2="259.18" stroke="#737879" stroke-width="1.0"/>
<line x1="192" y1="259.18" x2="189.9" y2="259.18" stroke="#737879" stroke-width="1.0"/>
<line x1="22.6" y1="244.35" x2="26.1" y2="244.35" stroke="#737879" stroke-width="1.0"/>
<line x1="192" y1="244.35" x2="188.5" y2="244.35" stroke="#737879" stroke-width="1.0"/>
<line x1="22.6" y1="229.53" x2="24.7" y2="229.53" stroke="#737879" stroke-width="1.0"/>
<line x1="192" y1="229.53" x2="189.9" y2="229.53" stroke="#737879" stroke-width="1.0"/>
<line x1="22.6" y1="214.7" x2="26.1" y2="214.7" stroke="#737879" stroke-width="1.0"/>
<line x1="192" y1="214.7" x2="188.5" y2="214.7" stroke="#737879" stroke-width="1.0"/>
<line x1="22.6" y1="199.88" x2="24.7" y2="199.88" stroke="#737879" stroke-width="1.0"/>
<line x1="192" y1="199.88" x2="189.9" y2="199.88" stroke="#737879" stroke-width="1.0"/>
<line x1="22.6" y1="185.05" x2="26.1" y2="185.05" stroke="#737879" stroke-width="1.0"/>
<line x1="192" y1="185.05" x2="188.5" y2="185.05" stroke="#737879" stroke-width="1.0"/>
<line x1="22.6" y1="170.23" x2="24.7" y2="170.23" stroke="#737879" stroke-width="1.0"/>
<line x1="192" y1="170.23" x2="189.9" y2="170.23" stroke="#737879" stroke-width="1.0"/>
<line x1="22.6" y1="155.4" x2="26.1" y2="155.4" stroke="#737879" stroke-width="1.0"/>
<line x1="192" y1="155.4" x2="188.5" y2="155.4" stroke="#737879" stroke-width="1.0"/>
<text transform="translate(22.4,281.1) scale(1.0800,1)" x="0" y="2.78" font-size="7.73" fill="#000" stroke="#000" stroke-width="0.08" text-anchor="middle">0.4</text>
<text transform="translate(50.8,281.1) scale(1.0800,1)" x="0" y="2.78" font-size="7.73" fill="#000" stroke="#000" stroke-width="0.08" text-anchor="middle">0.5</text>
<text transform="translate(79.2,281.1) scale(1.0800,1)" x="0" y="2.78" font-size="7.73" fill="#000" stroke="#000" stroke-width="0.08" text-anchor="middle">0.6</text>
<text transform="translate(107.6,281.1) scale(1.0800,1)" x="0" y="2.78" font-size="7.73" fill="#000" stroke="#000" stroke-width="0.08" text-anchor="middle">0.7</text>
<text transform="translate(136,281.1) scale(1.0800,1)" x="0" y="2.78" font-size="7.73" fill="#000" stroke="#000" stroke-width="0.08" text-anchor="middle">0.8</text>
<text transform="translate(164.4,281.1) scale(1.0800,1)" x="0" y="2.78" font-size="7.73" fill="#000" stroke="#000" stroke-width="0.08" text-anchor="middle">0.9</text>
<text transform="translate(187.6,281.1) scale(1.0800,1)" x="0" y="2.78" font-size="7.73" fill="#000" stroke="#000" stroke-width="0.08">1.</text>
<text transform="translate(21.4,274) scale(1.0800,1)" x="0" y="2.85" font-size="7.91" fill="#000" stroke="#000" stroke-width="0.08" text-anchor="end">0</text>
<text transform="translate(21.4,244.35) scale(1.0800,1)" x="0" y="2.85" font-size="7.91" fill="#000" stroke="#000" stroke-width="0.08" text-anchor="end">10</text>
<text transform="translate(21.4,214.7) scale(1.0800,1)" x="0" y="2.85" font-size="7.91" fill="#000" stroke="#000" stroke-width="0.08" text-anchor="end">20</text>
<text transform="translate(21.4,185.05) scale(1.0800,1)" x="0" y="2.85" font-size="7.91" fill="#000" stroke="#000" stroke-width="0.08" text-anchor="end">30</text>
<text transform="translate(21.4,155.4) scale(1.0800,1)" x="0" y="2.85" font-size="7.91" fill="#000" stroke="#000" stroke-width="0.08" text-anchor="end">40</text>
<text transform="translate(107,289.4) scale(0.9970,1)" x="0" y="3.1" font-size="8.6" fill="#000" stroke="#000" stroke-width="0.08" text-anchor="middle">Potential (V vs Ag/AgCl)</text>
<text transform="translate(8,213.35) rotate(-90) scale(0.9925,1)" x="0" y="3.02" font-size="8.4" fill="#000" stroke="#000" stroke-width="0" text-anchor="middle"><tspan font-size="8.4">Current density (mA cm</tspan><tspan font-size="5.46" dy="-3.36">-2</tspan><tspan font-size="8.4" dy="3.36">)</tspan></text>
<text transform="translate(6.2,289.75)" x="0" y="4.03" font-size="11.2" fill="#000" stroke="#000" stroke-width="0.08" font-weight="bold">(c)</text>
<text transform="translate(35.3,161.6) scale(1.0206,1)" x="0" y="3.78" font-size="10.5" fill="#000" stroke="#000" stroke-width="0.08"><tspan font-size="10.5">Co</tspan><tspan font-size="6.83" dy="3.15">25</tspan><tspan font-size="10.5" dy="-3.15">Zn</tspan><tspan font-size="6.83" dy="3.15">75</tspan><tspan font-size="10.5" dy="-3.15">–C</tspan></text>
<text transform="translate(30.6,176) scale(1.0055,1)" x="0" y="3.96" font-size="11" fill="#000" stroke="#000" stroke-width="0.08">Co/C</text>
<line x1="31" y1="187" x2="50.5" y2="187" stroke="#111111" stroke-width="1.9"/>
<text transform="translate(52.8,187)" x="0" y="2.95" font-size="8.2" fill="#000" stroke="#000" stroke-width="0.08">800-10h</text>
<line x1="31" y1="197.32" x2="50.5" y2="197.32" stroke="#ff0a18" stroke-width="1.9"/>
<text transform="translate(52.8,197.32)" x="0" y="2.95" font-size="8.2" fill="#000" stroke="#000" stroke-width="0.08">900-5h</text>
<line x1="31" y1="207.64" x2="50.5" y2="207.64" stroke="#10a010" stroke-width="1.9"/>
<text transform="translate(52.8,207.64)" x="0" y="2.95" font-size="8.2" fill="#000" stroke="#000" stroke-width="0.08">900-10h</text>
<line x1="31" y1="217.96" x2="50.5" y2="217.96" stroke="#2a4ae8" stroke-width="1.9"/>
<text transform="translate(52.8,217.96)" x="0" y="2.95" font-size="8.2" fill="#000" stroke="#000" stroke-width="0.08">1000-5h</text>
<line x1="31" y1="228.28" x2="50.5" y2="228.28" stroke="#ff6a3a" stroke-width="1.9"/>
<text transform="translate(52.8,228.28)" x="0" y="2.95" font-size="8.2" fill="#000" stroke="#000" stroke-width="0.08">1000-10h</text>
<line x1="31" y1="238.6" x2="50.5" y2="238.6" stroke="#6a2cf0" stroke-width="1.9"/>
<text transform="translate(52.8,238.6)" x="0" y="2.95" font-size="8.2" fill="#000" stroke="#000" stroke-width="0.08">1100-10h</text>
<line x1="31" y1="253.7" x2="50.5" y2="253.7" stroke="#c020d0" stroke-width="1.9"/>
<text transform="translate(52.8,253.7)" x="0" y="2.95" font-size="8.2" fill="#000" stroke="#000" stroke-width="0.08">PtC</text>
<polyline points="218.3,272.09 219.43,272.09 220.55,272.09 221.68,272.09 222.8,272.08 223.93,272.08 225.05,272.08 226.18,272.08 227.3,272.08 228.43,272.07 229.56,272.07 230.68,272.07 231.81,272.06 232.93,272.06 234.06,272.06 235.18,272.05 236.31,272.05 237.43,272.04 238.56,272.04 239.68,272.03 240.81,272.02 241.94,272.02 243.06,272.01 244.19,272 245.31,271.99 246.44,271.99 247.56,271.98 248.69,271.96 249.81,271.95 250.94,271.94 252.07,271.93 253.19,271.91 254.32,271.9 255.44,271.88 256.57,271.86 257.69,271.84 258.82,271.82 259.94,271.8 261.07,271.77 262.19,271.75 263.32,271.72 264.45,271.69 265.57,271.65 266.7,271.62 267.82,271.58 268.95,271.54 270.07,271.49 271.2,271.45 272.32,271.39 273.45,271.34 274.58,271.28 275.7,271.21 276.83,271.14 277.95,271.07 279.08,270.99 280.2,270.9 281.33,270.81 282.45,270.71 283.58,270.61 284.7,270.5 285.83,270.37 286.96,270.24 288.08,270.11 289.21,269.96 290.33,269.8 291.46,269.63 292.58,269.45 293.71,269.26 294.83,269.06 295.96,268.84 297.09,268.61 298.21,268.37 299.34,268.11 300.46,267.84 301.59,267.55 302.71,267.24 303.84,266.92 304.96,266.59 306.09,266.23 307.21,265.86 308.34,265.47 309.47,265.06 310.59,264.63 311.72,264.19 312.84,263.73 313.97,263.24 315.09,262.74 316.22,262.22 317.34,261.69 318.47,261.13 319.6,260.56 320.72,259.97 321.85,259.37 322.97,258.74 324.1,258.11 325.22,257.45 326.35,256.79 327.47,256.11 328.6,255.41 329.72,254.71 330.85,253.99 331.98,253.26 333.1,252.52 334.23,251.78 335.35,251.02 336.48,250.26 337.6,249.49 338.73,248.71 339.85,247.93 340.98,247.14 342.11,246.35 343.23,245.55 344.36,244.75 345.48,243.95 346.61,243.15 347.73,242.34 348.86,241.54 349.98,240.73 351.11,239.93 352.23,239.12 353.36,238.32 354.49,237.52 355.61,236.72 356.74,235.92 357.86,235.12 358.99,234.33 360.11,233.54 361.24,232.75 362.36,231.97 363.49,231.19 364.62,230.41 365.74,229.64 366.87,228.87 367.99,228.11 369.12,227.35 370.24,226.59 371.37,225.84 372.49,225.1 373.62,224.36 374.74,223.63 375.87,222.9 377,222.18 378.12,221.46 379.25,220.75 380.37,220.04 381.5,219.34 382.62,218.65 383.75,217.96 384.87,217.28 386,216.6" fill="none" stroke="#ff0a18" stroke-width="1.5" stroke-linejoin="round" stroke-linecap="round"/>
<polyline points="218.3,271.62 219.43,271.62 220.55,271.62 221.68,271.62 222.8,271.62 223.93,271.62 225.05,271.62 226.18,271.62 227.3,271.62 228.43,271.62 229.56,271.62 230.68,271.62 231.81,271.62 232.93,271.62 234.06,271.62 235.18,271.62 236.31,271.62 237.43,271.61 238.56,271.61 239.68,271.61 240.81,271.61 241.94,271.61 243.06,271.61 244.19,271.61 245.31,271.61 246.44,271.6 247.56,271.6 248.69,271.6 249.81,271.59 250.94,271.59 252.07,271.59 253.19,271.58 254.32,271.58 255.44,271.57 256.57,271.57 257.69,271.56 258.82,271.55 259.94,271.54 261.07,271.53 262.19,271.52 263.32,271.51 264.45,271.49 265.57,271.47 266.7,271.45 267.82,271.43 268.95,271.41 270.07,271.38 271.2,271.35 272.32,271.32 273.45,271.28 274.58,271.23 275.7,271.18 276.83,271.13 277.95,271.07 279.08,271 280.2,270.92 281.33,270.84 282.45,270.74 283.58,270.63 284.7,270.51 285.83,270.38 286.96,270.23 288.08,270.07 289.21,269.89 290.33,269.69 291.46,269.46 292.58,269.22 293.71,268.96 294.83,268.67 295.96,268.35 297.09,268.01 298.21,267.64 299.34,267.24 300.46,266.81 301.59,266.35 302.71,265.86 303.84,265.34 304.96,264.78 306.09,264.2 307.21,263.59 308.34,262.94 309.47,262.27 310.59,261.56 311.72,260.83 312.84,260.08 313.97,259.3 315.09,258.49 316.22,257.66 317.34,256.82 318.47,255.95 319.6,255.06 320.72,254.15 321.85,253.23 322.97,252.29 324.1,251.34 325.22,250.37 326.35,249.39 327.47,248.4 328.6,247.39 329.72,246.38 330.85,245.35 331.98,244.32 333.1,243.27 334.23,242.22 335.35,241.16 336.48,240.09 337.6,239.02 338.73,237.93 339.85,236.84 340.98,235.75 342.11,234.64 343.23,233.53 344.36,232.42 345.48,231.3 346.61,230.17 347.73,229.04 348.86,227.9 349.98,226.75 351.11,225.6 352.23,224.45 353.36,223.29 354.49,222.13 355.61,220.96 356.74,219.78 357.86,218.6 358.99,217.42 360.11,216.23 361.24,215.03 362.36,213.83 363.49,212.63 364.62,211.42 365.74,210.21 366.87,208.99 367.99,207.77 369.12,206.54 370.24,205.31 371.37,204.07 372.49,202.83 373.62,201.58 374.74,200.33 375.87,199.07 377,197.81 378.12,196.55 379.25,195.28 380.37,194 381.5,192.73 382.62,191.44 383.75,190.15 384.87,188.86 386,187.56" fill="none" stroke="#10a010" stroke-width="1.5" stroke-linejoin="round" stroke-linecap="round"/>
<polyline points="218.3,271.55 219.43,271.55 220.55,271.55 221.68,271.55 222.8,271.55 223.93,271.55 225.05,271.55 226.18,271.55 227.3,271.55 228.43,271.55 229.56,271.55 230.68,271.55 231.81,271.55 232.93,271.55 234.06,271.55 235.18,271.55 236.31,271.55 237.43,271.55 238.56,271.54 239.68,271.54 240.81,271.54 241.94,271.54 243.06,271.54 244.19,271.54 245.31,271.54 246.44,271.54 247.56,271.54 248.69,271.54 249.81,271.53 250.94,271.53 252.07,271.53 253.19,271.53 254.32,271.52 255.44,271.52 256.57,271.52 257.69,271.51 258.82,271.51 259.94,271.5 261.07,271.49 262.19,271.49 263.32,271.48 264.45,271.47 265.57,271.46 266.7,271.44 267.82,271.43 268.95,271.41 270.07,271.39 271.2,271.37 272.32,271.34 273.45,271.31 274.58,271.28 275.7,271.24 276.83,271.2 277.95,271.15 279.08,271.1 280.2,271.03 281.33,270.96 282.45,270.88 283.58,270.78 284.7,270.68 285.83,270.56 286.96,270.42 288.08,270.27 289.21,270.1 290.33,269.91 291.46,269.69 292.58,269.45 293.71,269.18 294.83,268.88 295.96,268.54 297.09,268.17 298.21,267.76 299.34,267.31 300.46,266.82 301.59,266.28 302.71,265.7 303.84,265.07 304.96,264.39 306.09,263.67 307.21,262.89 308.34,262.06 309.47,261.19 310.59,260.27 311.72,259.31 312.84,258.3 313.97,257.25 315.09,256.16 316.22,255.04 317.34,253.88 318.47,252.69 319.6,251.47 320.72,250.22 321.85,248.95 322.97,247.66 324.1,246.34 325.22,245.01 326.35,243.66 327.47,242.29 328.6,240.91 329.72,239.52 330.85,238.12 331.98,236.71 333.1,235.28 334.23,233.85 335.35,232.42 336.48,230.97 337.6,229.52 338.73,228.06 339.85,226.6 340.98,225.13 342.11,223.66 343.23,222.19 344.36,220.71 345.48,219.23 346.61,217.74 347.73,216.25 348.86,214.76 349.98,213.26 351.11,211.77 352.23,210.27 353.36,208.77 354.49,207.26 355.61,205.76 356.74,204.25 357.86,202.74 358.99,201.23 360.11,199.71 361.24,198.2 362.36,196.68 363.49,195.16 364.62,193.64 365.74,192.11 366.87,190.59 367.99,189.06 369.12,187.53 370.24,186 371.37,184.47 372.49,182.94 373.62,181.4 374.74,179.87 375.87,178.33 377,176.79 378.12,175.25 379.25,173.7 380.37,172.16 381.5,170.61 382.62,169.06 383.75,167.51 384.87,165.96 386,164.41" fill="none" stroke="#2a4ae8" stroke-width="1.5" stroke-linejoin="round" stroke-linecap="round"/>
<rect x="217.8" y="150" width="168.4" height="123.6" fill="none" stroke="#737879" stroke-width="1.3"/>
<line x1="232.28" y1="273.6" x2="232.28" y2="271.5" stroke="#737879" stroke-width="1.0"/>
<line x1="232.28" y1="150" x2="232.28" y2="152.1" stroke="#737879" stroke-width="1.0"/>
<line x1="246.25" y1="273.6" x2="246.25" y2="270.1" stroke="#737879" stroke-width="1.0"/>
<line x1="246.25" y1="150" x2="246.25" y2="153.5" stroke="#737879" stroke-width="1.0"/>
<line x1="260.23" y1="273.6" x2="260.23" y2="271.5" stroke="#737879" stroke-width="1.0"/>
<line x1="260.23" y1="150" x2="260.23" y2="152.1" stroke="#737879" stroke-width="1.0"/>
<line x1="274.2" y1="273.6" x2="274.2" y2="270.1" stroke="#737879" stroke-width="1.0"/>
<line x1="274.2" y1="150" x2="274.2" y2="153.5" stroke="#737879" stroke-width="1.0"/>
<line x1="288.18" y1="273.6" x2="288.18" y2="271.5" stroke="#737879" stroke-width="1.0"/>
<line x1="288.18" y1="150" x2="288.18" y2="152.1" stroke="#737879" stroke-width="1.0"/>
<line x1="302.15" y1="273.6" x2="302.15" y2="270.1" stroke="#737879" stroke-width="1.0"/>
<line x1="302.15" y1="150" x2="302.15" y2="153.5" stroke="#737879" stroke-width="1.0"/>
<line x1="316.12" y1="273.6" x2="316.12" y2="271.5" stroke="#737879" stroke-width="1.0"/>
<line x1="316.12" y1="150" x2="316.12" y2="152.1" stroke="#737879" stroke-width="1.0"/>
<line x1="330.1" y1="273.6" x2="330.1" y2="270.1" stroke="#737879" stroke-width="1.0"/>
<line x1="330.1" y1="150" x2="330.1" y2="153.5" stroke="#737879" stroke-width="1.0"/>
<line x1="344.08" y1="273.6" x2="344.08" y2="271.5" stroke="#737879" stroke-width="1.0"/>
<line x1="344.08" y1="150" x2="344.08" y2="152.1" stroke="#737879" stroke-width="1.0"/>
<line x1="358.05" y1="273.6" x2="358.05" y2="270.1" stroke="#737879" stroke-width="1.0"/>
<line x1="358.05" y1="150" x2="358.05" y2="153.5" stroke="#737879" stroke-width="1.0"/>
<line x1="372.03" y1="273.6" x2="372.03" y2="271.5" stroke="#737879" stroke-width="1.0"/>
<line x1="372.03" y1="150" x2="372.03" y2="152.1" stroke="#737879" stroke-width="1.0"/>
<line x1="217.8" y1="273.4" x2="221.3" y2="273.4" stroke="#737879" stroke-width="1.0"/>
<line x1="386.2" y1="273.4" x2="382.7" y2="273.4" stroke="#737879" stroke-width="1.0"/>
<line x1="217.8" y1="258" x2="219.9" y2="258" stroke="#737879" stroke-width="1.0"/>
<line x1="386.2" y1="258" x2="384.1" y2="258" stroke="#737879" stroke-width="1.0"/>
<line x1="217.8" y1="242.6" x2="221.3" y2="242.6" stroke="#737879" stroke-width="1.0"/>
<line x1="386.2" y1="242.6" x2="382.7" y2="242.6" stroke="#737879" stroke-width="1.0"/>
<line x1="217.8" y1="227.2" x2="219.9" y2="227.2" stroke="#737879" stroke-width="1.0"/>
<line x1="386.2" y1="227.2" x2="384.1" y2="227.2" stroke="#737879" stroke-width="1.0"/>
<line x1="217.8" y1="211.8" x2="221.3" y2="211.8" stroke="#737879" stroke-width="1.0"/>
<line x1="386.2" y1="211.8" x2="382.7" y2="211.8" stroke="#737879" stroke-width="1.0"/>
<line x1="217.8" y1="196.4" x2="219.9" y2="196.4" stroke="#737879" stroke-width="1.0"/>
<line x1="386.2" y1="196.4" x2="384.1" y2="196.4" stroke="#737879" stroke-width="1.0"/>
<line x1="217.8" y1="181" x2="221.3" y2="181" stroke="#737879" stroke-width="1.0"/>
<line x1="386.2" y1="181" x2="382.7" y2="181" stroke="#737879" stroke-width="1.0"/>
<line x1="217.8" y1="165.6" x2="219.9" y2="165.6" stroke="#737879" stroke-width="1.0"/>
<line x1="386.2" y1="165.6" x2="384.1" y2="165.6" stroke="#737879" stroke-width="1.0"/>
<line x1="217.8" y1="150.2" x2="221.3" y2="150.2" stroke="#737879" stroke-width="1.0"/>
<line x1="386.2" y1="150.2" x2="382.7" y2="150.2" stroke="#737879" stroke-width="1.0"/>
<text transform="translate(218.3,282.3) scale(1.0800,1)" x="0" y="2.78" font-size="7.73" fill="#000" stroke="#000" stroke-width="0.08" text-anchor="middle">0.4</text>
<text transform="translate(246.25,282.3) scale(1.0800,1)" x="0" y="2.78" font-size="7.73" fill="#000" stroke="#000" stroke-width="0.08" text-anchor="middle">0.5</text>
<text transform="translate(274.2,282.3) scale(1.0800,1)" x="0" y="2.78" font-size="7.73" fill="#000" stroke="#000" stroke-width="0.08" text-anchor="middle">0.6</text>
<text transform="translate(302.15,282.3) scale(1.0800,1)" x="0" y="2.78" font-size="7.73" fill="#000" stroke="#000" stroke-width="0.08" text-anchor="middle">0.7</text>
<text transform="translate(330.1,282.3) scale(1.0800,1)" x="0" y="2.78" font-size="7.73" fill="#000" stroke="#000" stroke-width="0.08" text-anchor="middle">0.8</text>
<text transform="translate(358.05,282.3) scale(1.0800,1)" x="0" y="2.78" font-size="7.73" fill="#000" stroke="#000" stroke-width="0.08" text-anchor="middle">0.9</text>
<text transform="translate(381.3,282.3) scale(1.0800,1)" x="0" y="2.78" font-size="7.73" fill="#000" stroke="#000" stroke-width="0.08">1.0</text>
<text transform="translate(215,273.4) scale(1.0800,1)" x="0" y="2.85" font-size="7.91" fill="#000" stroke="#000" stroke-width="0.08" text-anchor="end">0</text>
<text transform="translate(215,242.6) scale(1.0800,1)" x="0" y="2.85" font-size="7.91" fill="#000" stroke="#000" stroke-width="0.08" text-anchor="end">10</text>
<text transform="translate(215,211.8) scale(1.0800,1)" x="0" y="2.85" font-size="7.91" fill="#000" stroke="#000" stroke-width="0.08" text-anchor="end">20</text>
<text transform="translate(215,181) scale(1.0800,1)" x="0" y="2.85" font-size="7.91" fill="#000" stroke="#000" stroke-width="0.08" text-anchor="end">30</text>
<text transform="translate(215,150.2) scale(1.0800,1)" x="0" y="2.85" font-size="7.91" fill="#000" stroke="#000" stroke-width="0.08" text-anchor="end">40</text>
<text transform="translate(302.3,288.6) scale(1.0129,1)" x="0" y="3.02" font-size="8.4" fill="#000" stroke="#000" stroke-width="0.08" text-anchor="middle">Potential (V vs Ag/AgCl)</text>
<text transform="translate(201,211.6) rotate(-90) scale(1.0068,1)" x="0" y="3.06" font-size="8.5" fill="#000" stroke="#000" stroke-width="0" text-anchor="middle"><tspan font-size="8.5">Current density (mA cm</tspan><tspan font-size="5.53" dy="-3.4">-2</tspan><tspan font-size="8.5" dy="3.4">)</tspan></text>
<text transform="translate(193.8,288.35)" x="0" y="4.03" font-size="11.2" fill="#000" stroke="#000" stroke-width="0.08" font-weight="bold">(d)</text>
<text transform="translate(228.5,162.7) scale(0.9613,1)" x="0" y="3.17" font-size="8.8" fill="#000" stroke="#000" stroke-width="0.08"><tspan font-size="8.8">Co</tspan><tspan font-size="5.28" dy="2.64">3</tspan><tspan font-size="8.8" dy="-2.64">O</tspan><tspan font-size="5.28" dy="2.64">4</tspan><tspan font-size="8.8" dy="-2.64">/C</tspan></text>
<line x1="228" y1="175.7" x2="247.4" y2="175.7" stroke="#ff0a18" stroke-width="1.4"/>
<text transform="translate(250,175.7)" x="0" y="2.95" font-size="8.2" fill="#000" stroke="#000" stroke-width="0.08">900-2h</text>
<line x1="228" y1="185.75" x2="247.4" y2="185.75" stroke="#10a010" stroke-width="1.4"/>
<text transform="translate(250,185.75)" x="0" y="2.95" font-size="8.2" fill="#000" stroke="#000" stroke-width="0.08">900-5h</text>
<line x1="228" y1="195.8" x2="247.4" y2="195.8" stroke="#2a4ae8" stroke-width="1.4"/>
<text transform="translate(250,195.8)" x="0" y="2.95" font-size="8.2" fill="#000" stroke="#000" stroke-width="0.08">1000-5h</text>
<text transform="translate(290.3,163.6) scale(1.0106,1)" x="0" y="3.96" font-size="11" fill="#000" stroke="#000" stroke-width="0.08"><tspan font-size="11">Co</tspan><tspan font-size="7.92" dy="2.64">25</tspan><tspan font-size="11" dy="-2.64">Zn</tspan><tspan font-size="7.92" dy="2.64">75</tspan><tspan font-size="11" dy="-2.64">–C</tspan></text>
<polyline points="23.3,304.8 24.6,305.02 25.9,305.25 27.2,305.47 28.5,305.69 29.8,305.91 31.1,306.13 32.4,306.35 33.7,306.56 35,306.78 36.3,306.99 37.6,307.21 38.9,307.42 40.2,307.63 41.5,307.85 42.8,308.09 44.1,308.32 45.4,308.56 46.7,308.78 48,309 49.3,309.19 50.6,309.36 51.9,309.49 53.2,309.6 54.5,309.68 55.8,309.76 57.1,309.83 58.4,309.9 59.7,309.98 61,310.07 62.3,310.16 63.6,310.25 64.9,310.35 66.2,310.45 67.5,310.55 68.8,310.65 70.1,310.75 71.4,310.86 72.7,310.96 74,311.06 75.3,311.16 76.6,311.26 77.9,311.35 79.2,311.44 80.5,311.53 81.8,311.62 83.1,311.71 84.4,311.8 85.7,311.89 87,311.98 88.3,312.07 89.6,312.16 90.9,312.25 92.2,312.34 93.5,312.43 94.8,312.51 96.1,312.6 97.4,312.68 98.7,312.76 100,312.84 101.3,312.92 102.6,313 103.9,313.08 105.2,313.15 106.5,313.22 107.8,313.29 109.1,313.36 110.4,313.42 111.7,313.49 113,313.55 114.3,313.6 115.6,313.66 116.9,313.71 118.2,313.77 119.5,313.82 120.8,313.87 122.1,313.92 123.4,313.97 124.7,314.02 126,314.06 127.3,314.11 128.6,314.16 129.9,314.2 131.2,314.24 132.5,314.29 133.8,314.33 135.1,314.37 136.4,314.42 137.7,314.46" fill="none" stroke="#2a4ae8" stroke-width="1.5" stroke-linejoin="round" stroke-linecap="round"/>
<polyline points="23.3,306.1 24.6,306.32 25.9,306.55 27.2,306.77 28.5,306.99 29.8,307.21 31.1,307.43 32.4,307.65 33.7,307.86 35,308.08 36.3,308.29 37.6,308.51 38.9,308.72 40.2,308.93 41.5,309.15 42.8,309.39 44.1,309.62 45.4,309.86 46.7,310.08 48,310.3 49.3,310.49 50.6,310.66 51.9,310.79 53.2,310.9 54.5,310.98 55.8,311.06 57.1,311.13 58.4,311.2 59.7,311.28 61,311.37 62.3,311.46 63.6,311.55 64.9,311.65 66.2,311.75 67.5,311.85 68.8,311.95 70.1,312.05 71.4,312.16 72.7,312.26 74,312.36 75.3,312.46 76.6,312.56 77.9,312.65 79.2,312.74 80.5,312.83 81.8,312.92 83.1,313.01 84.4,313.1 85.7,313.19 87,313.28 88.3,313.37 89.6,313.46 90.9,313.55 92.2,313.64 93.5,313.73 94.8,313.81 96.1,313.9 97.4,313.98 98.7,314.06 100,314.14 101.3,314.22 102.6,314.3 103.9,314.38 105.2,314.45 106.5,314.52 107.8,314.59 109.1,314.66 110.4,314.72 111.7,314.79 113,314.85 114.3,314.9 115.6,314.96 116.9,315.01 118.2,315.07 119.5,315.12 120.8,315.17 122.1,315.22 123.4,315.27 124.7,315.32 126,315.36 127.3,315.41 128.6,315.46 129.9,315.5 131.2,315.54 132.5,315.59 133.8,315.63 135.1,315.67 136.4,315.72 137.7,315.76 139,315.8 140.3,315.84 141.6,315.88 142.9,315.92 144.2,315.97 145.5,316.01 146.8,316.05 148.1,316.09 149.4,316.13 150.7,316.17 152,316.21 153.3,316.24 154.6,316.28 155.9,316.32 157.2,316.36 158.5,316.4 159.8,316.43 161.1,316.47 162.4,316.5 163.7,316.54 165,316.58 166.3,316.61 167.6,316.64 168.9,316.68 170.2,316.71 171.5,316.74 172.8,316.78 174.1,316.81 175.4,316.84 176.7,316.87 178,316.9" fill="none" stroke="#ff0a18" stroke-width="2.5" stroke-linejoin="round" stroke-linecap="round"/>
<polyline points="23.4,305.4 23.8,313.4 24.7,317.9 27.4,322.4 32.7,327.7 39.9,333.4 41.2,332.2 44.4,334.2 52,337 60,339.4 82,344.8 100,349.2 120,352.2 130,353.4 150,355.8 165,359.2 180,361.6 193,362.6" fill="none" stroke="#10a010" stroke-width="1.6" stroke-linejoin="round" stroke-linecap="round"/>
<rect x="23.2" y="299.7" width="170.2" height="125.1" fill="none" stroke="#737879" stroke-width="1.3"/>
<line x1="42.15" y1="424.8" x2="42.15" y2="422.7" stroke="#737879" stroke-width="1.0"/>
<line x1="42.15" y1="299.7" x2="42.15" y2="301.8" stroke="#737879" stroke-width="1.0"/>
<line x1="61.1" y1="424.8" x2="61.1" y2="421.3" stroke="#737879" stroke-width="1.0"/>
<line x1="61.1" y1="299.7" x2="61.1" y2="303.2" stroke="#737879" stroke-width="1.0"/>
<line x1="80.05" y1="424.8" x2="80.05" y2="422.7" stroke="#737879" stroke-width="1.0"/>
<line x1="80.05" y1="299.7" x2="80.05" y2="301.8" stroke="#737879" stroke-width="1.0"/>
<line x1="99" y1="424.8" x2="99" y2="421.3" stroke="#737879" stroke-width="1.0"/>
<line x1="99" y1="299.7" x2="99" y2="303.2" stroke="#737879" stroke-width="1.0"/>
<line x1="117.95" y1="424.8" x2="117.95" y2="422.7" stroke="#737879" stroke-width="1.0"/>
<line x1="117.95" y1="299.7" x2="117.95" y2="301.8" stroke="#737879" stroke-width="1.0"/>
<line x1="136.9" y1="424.8" x2="136.9" y2="421.3" stroke="#737879" stroke-width="1.0"/>
<line x1="136.9" y1="299.7" x2="136.9" y2="303.2" stroke="#737879" stroke-width="1.0"/>
<line x1="155.85" y1="424.8" x2="155.85" y2="422.7" stroke="#737879" stroke-width="1.0"/>
<line x1="155.85" y1="299.7" x2="155.85" y2="301.8" stroke="#737879" stroke-width="1.0"/>
<line x1="174.8" y1="424.8" x2="174.8" y2="421.3" stroke="#737879" stroke-width="1.0"/>
<line x1="174.8" y1="299.7" x2="174.8" y2="303.2" stroke="#737879" stroke-width="1.0"/>
<line x1="23.2" y1="424.8" x2="26.7" y2="424.8" stroke="#737879" stroke-width="1.0"/>
<line x1="193.4" y1="424.8" x2="189.9" y2="424.8" stroke="#737879" stroke-width="1.0"/>
<line x1="23.2" y1="412.88" x2="25.3" y2="412.88" stroke="#737879" stroke-width="1.0"/>
<line x1="193.4" y1="412.88" x2="191.3" y2="412.88" stroke="#737879" stroke-width="1.0"/>
<line x1="23.2" y1="400.96" x2="26.7" y2="400.96" stroke="#737879" stroke-width="1.0"/>
<line x1="193.4" y1="400.96" x2="189.9" y2="400.96" stroke="#737879" stroke-width="1.0"/>
<line x1="23.2" y1="389.04" x2="25.3" y2="389.04" stroke="#737879" stroke-width="1.0"/>
<line x1="193.4" y1="389.04" x2="191.3" y2="389.04" stroke="#737879" stroke-width="1.0"/>
<line x1="23.2" y1="377.12" x2="26.7" y2="377.12" stroke="#737879" stroke-width="1.0"/>
<line x1="193.4" y1="377.12" x2="189.9" y2="377.12" stroke="#737879" stroke-width="1.0"/>
<line x1="23.2" y1="365.2" x2="25.3" y2="365.2" stroke="#737879" stroke-width="1.0"/>
<line x1="193.4" y1="365.2" x2="191.3" y2="365.2" stroke="#737879" stroke-width="1.0"/>
<line x1="23.2" y1="353.28" x2="26.7" y2="353.28" stroke="#737879" stroke-width="1.0"/>
<line x1="193.4" y1="353.28" x2="189.9" y2="353.28" stroke="#737879" stroke-width="1.0"/>
<line x1="23.2" y1="341.36" x2="25.3" y2="341.36" stroke="#737879" stroke-width="1.0"/>
<line x1="193.4" y1="341.36" x2="191.3" y2="341.36" stroke="#737879" stroke-width="1.0"/>
<line x1="23.2" y1="329.44" x2="26.7" y2="329.44" stroke="#737879" stroke-width="1.0"/>
<line x1="193.4" y1="329.44" x2="189.9" y2="329.44" stroke="#737879" stroke-width="1.0"/>
<line x1="23.2" y1="317.52" x2="25.3" y2="317.52" stroke="#737879" stroke-width="1.0"/>
<line x1="193.4" y1="317.52" x2="191.3" y2="317.52" stroke="#737879" stroke-width="1.0"/>
<text transform="translate(23.2,431.6) scale(1.0800,1)" x="0" y="2.78" font-size="7.73" fill="#000" stroke="#000" stroke-width="0.08" text-anchor="middle">0</text>
<text transform="translate(61.1,431.6) scale(1.0800,1)" x="0" y="2.78" font-size="7.73" fill="#000" stroke="#000" stroke-width="0.08" text-anchor="middle">5</text>
<text transform="translate(99,431.6) scale(1.0800,1)" x="0" y="2.78" font-size="7.73" fill="#000" stroke="#000" stroke-width="0.08" text-anchor="middle">10</text>
<text transform="translate(136.9,431.6) scale(1.0800,1)" x="0" y="2.78" font-size="7.73" fill="#000" stroke="#000" stroke-width="0.08" text-anchor="middle">15</text>
<text transform="translate(174.8,431.6) scale(1.0800,1)" x="0" y="2.78" font-size="7.73" fill="#000" stroke="#000" stroke-width="0.08" text-anchor="middle">20</text>
<text transform="translate(22,424.8) scale(1.0800,1)" x="0" y="2.71" font-size="7.54" fill="#000" stroke="#000" stroke-width="0.08" text-anchor="end">0</text>
<text transform="translate(22,400.96) scale(1.0800,1)" x="0" y="2.71" font-size="7.54" fill="#000" stroke="#000" stroke-width="0.08" text-anchor="end">20</text>
<text transform="translate(22,377.12) scale(1.0800,1)" x="0" y="2.71" font-size="7.54" fill="#000" stroke="#000" stroke-width="0.08" text-anchor="end">40</text>
<text transform="translate(22,353.28) scale(1.0800,1)" x="0" y="2.71" font-size="7.54" fill="#000" stroke="#000" stroke-width="0.08" text-anchor="end">60</text>
<text transform="translate(22,329.44) scale(1.0800,1)" x="0" y="2.71" font-size="7.54" fill="#000" stroke="#000" stroke-width="0.08" text-anchor="end">80</text>
<text transform="translate(22,305.6) scale(1.0800,1)" x="0" y="2.71" font-size="7.54" fill="#000" stroke="#000" stroke-width="0.08" text-anchor="end">100</text>
<text transform="translate(107.5,440.4) scale(1.0176,1)" x="0" y="3.17" font-size="8.8" fill="#000" stroke="#000" stroke-width="0.08" text-anchor="middle">Time (h)</text>
<text transform="translate(6.2,367.2) rotate(-90) scale(0.9513,1)" x="0" y="2.95" font-size="8.2" fill="#000" stroke="#000" stroke-width="0" text-anchor="middle">% Current density</text>
<text transform="translate(5.8,438.6)" x="0" y="4.03" font-size="11.2" fill="#000" stroke="#000" stroke-width="0.08" font-weight="bold">(e)</text>
<text transform="translate(96.7,306.8) scale(1.0215,1)" x="0" y="3.96" font-size="11" fill="#000" stroke="#000" stroke-width="0.08">Co/C</text>
<text transform="translate(132.9,309.6) scale(0.9674,1)" x="0" y="2.88" font-size="8" fill="#3040c0" stroke="#3040c0" stroke-width="0.08"><tspan font-size="8">Co</tspan><tspan font-size="5.2" dy="2.4">25</tspan><tspan font-size="8" dy="-2.4">Zn</tspan><tspan font-size="5.2" dy="2.4">75</tspan><tspan font-size="8" dy="-2.4">-C1000</tspan></text>
<text transform="translate(133,321.6) scale(0.9637,1)" x="0" y="2.88" font-size="8" fill="#ff0a18" stroke="#ff0a18" stroke-width="0.08"><tspan font-size="8">Co</tspan><tspan font-size="5.2" dy="2.4">25</tspan><tspan font-size="8" dy="-2.4">Zn</tspan><tspan font-size="5.2" dy="2.4">75</tspan><tspan font-size="8" dy="-2.4">-C900</tspan></text>
<text transform="translate(172.7,351.5) scale(0.9543,1)" x="0" y="3.17" font-size="8.8" fill="#10a010" stroke="#10a010" stroke-width="0.08">PtC</text>
<polyline points="50.4,394.51 53.46,394.5 56.51,394.49 59.57,394.47 62.62,394.46 65.68,394.45 68.73,394.44 71.79,394.42 74.84,394.41 77.9,394.4 80.95,394.39 84.01,394.37 87.06,394.36 90.12,394.35 93.17,394.33 96.23,394.32 99.28,394.31 102.34,394.3 105.39,394.28 108.45,394.27 111.5,394.26 114.56,394.24 117.61,394.23 120.67,394.22 123.72,394.21 126.78,394.19 129.83,394.18 132.89,394.17 135.94,394.16 139,394.14" fill="none" stroke="#2a4ae8" stroke-width="1.4" stroke-linejoin="round" stroke-linecap="round" stroke-dasharray="1.2,1.0"/>
<polyline points="50.4,393.87 76.08,393.55 79.93,392.1 139,391.94" fill="none" stroke="#ff0a18" stroke-width="2.5" stroke-linejoin="round" stroke-linecap="round" stroke-dasharray="2.2,0.6"/>
<polyline points="50.4,397.74 77.36,397.74 77.36,395.05 77.69,350.48 77.69,350.48 79.26,351.66 80.83,352.74 82.4,353.74 83.97,354.67 85.55,355.52 87.12,356.3 88.69,357.02 90.26,357.69 91.83,358.3 93.41,358.87 94.98,359.39 96.55,359.87 98.12,360.31 99.69,360.72 101.27,361.1 102.84,361.44 104.41,361.76 105.98,362.06 107.55,362.33 109.13,362.58 110.7,362.81 112.27,363.02 113.84,363.21 115.41,363.39 116.99,363.56 118.56,363.71 120.13,363.86 121.7,363.99 123.28,364.11 124.85,364.22 126.42,364.32 127.99,364.41 129.56,364.5 131.14,364.58 132.71,364.65 134.28,364.72 135.85,364.78 137.42,364.84 139,364.89" fill="none" stroke="#10a010" stroke-width="1.6" stroke-linejoin="round" stroke-linecap="round"/>
<polyline points="78.01,398 87.64,398 87.96,375.99 87.96,375.99 90.64,376.11 93.33,376.24 96.02,376.37 98.7,376.49 101.39,376.62 104.07,376.74 106.76,376.87 109.45,377 112.13,377.12 114.82,377.25 117.51,377.38 120.19,377.5 122.88,377.63 125.56,377.76 128.25,377.88 130.94,378.01 133.62,378.14 136.31,378.26 139,378.39" fill="none" stroke="#10a010" stroke-width="1.3" stroke-linejoin="round" stroke-linecap="round" stroke-dasharray="1.4,1.4"/>
<line x1="50.1" y1="342.2" x2="50.1" y2="405.8" stroke="#8a98a8" stroke-width="1.0"/>
<line x1="50.1" y1="405.8" x2="139" y2="405.8" stroke="#8a98a8" stroke-width="1.0"/>
<line x1="50.1" y1="400.42" x2="52.1" y2="400.42" stroke="#8a98a8" stroke-width="1.0"/>
<line x1="50.1" y1="395.05" x2="51.4" y2="395.05" stroke="#8a98a8" stroke-width="1.0"/>
<line x1="50.1" y1="389.68" x2="52.1" y2="389.68" stroke="#8a98a8" stroke-width="1.0"/>
<line x1="50.1" y1="384.31" x2="51.4" y2="384.31" stroke="#8a98a8" stroke-width="1.0"/>
<line x1="50.1" y1="378.94" x2="52.1" y2="378.94" stroke="#8a98a8" stroke-width="1.0"/>
<line x1="50.1" y1="373.57" x2="51.4" y2="373.57" stroke="#8a98a8" stroke-width="1.0"/>
<line x1="50.1" y1="368.2" x2="52.1" y2="368.2" stroke="#8a98a8" stroke-width="1.0"/>
<line x1="50.1" y1="362.83" x2="51.4" y2="362.83" stroke="#8a98a8" stroke-width="1.0"/>
<line x1="50.1" y1="357.46" x2="52.1" y2="357.46" stroke="#8a98a8" stroke-width="1.0"/>
<line x1="50.1" y1="352.09" x2="51.4" y2="352.09" stroke="#8a98a8" stroke-width="1.0"/>
<line x1="50.1" y1="346.72" x2="52.1" y2="346.72" stroke="#8a98a8" stroke-width="1.0"/>
<line x1="50.1" y1="341.35" x2="51.4" y2="341.35" stroke="#8a98a8" stroke-width="1.0"/>
<line x1="50.4" y1="405.8" x2="50.4" y2="403.8" stroke="#8a98a8" stroke-width="1.0"/>
<line x1="60.03" y1="405.8" x2="60.03" y2="404.5" stroke="#8a98a8" stroke-width="1.0"/>
<line x1="69.66" y1="405.8" x2="69.66" y2="403.8" stroke="#8a98a8" stroke-width="1.0"/>
<line x1="79.29" y1="405.8" x2="79.29" y2="404.5" stroke="#8a98a8" stroke-width="1.0"/>
<line x1="88.92" y1="405.8" x2="88.92" y2="403.8" stroke="#8a98a8" stroke-width="1.0"/>
<line x1="98.55" y1="405.8" x2="98.55" y2="404.5" stroke="#8a98a8" stroke-width="1.0"/>
<line x1="108.18" y1="405.8" x2="108.18" y2="403.8" stroke="#8a98a8" stroke-width="1.0"/>
<line x1="117.81" y1="405.8" x2="117.81" y2="404.5" stroke="#8a98a8" stroke-width="1.0"/>
<line x1="127.44" y1="405.8" x2="127.44" y2="403.8" stroke="#8a98a8" stroke-width="1.0"/>
<line x1="137.07" y1="405.8" x2="137.07" y2="404.5" stroke="#8a98a8" stroke-width="1.0"/>
<text transform="translate(48,346.72)" x="0" y="2.88" font-size="8" fill="#000" stroke="#000" stroke-width="0.08" text-anchor="end">4</text>
<text transform="translate(48,357.46)" x="0" y="2.88" font-size="8" fill="#000" stroke="#000" stroke-width="0.08" text-anchor="end">2</text>
<text transform="translate(48,368.2)" x="0" y="2.88" font-size="8" fill="#000" stroke="#000" stroke-width="0.08" text-anchor="end">0</text>
<text transform="translate(48,378.94)" x="0" y="2.88" font-size="8" fill="#000" stroke="#000" stroke-width="0.08" text-anchor="end">-2</text>
<text transform="translate(48,389.68)" x="0" y="2.88" font-size="8" fill="#000" stroke="#000" stroke-width="0.08" text-anchor="end">-4</text>
<text transform="translate(48,400.42)" x="0" y="2.88" font-size="8" fill="#000" stroke="#000" stroke-width="0.08" text-anchor="end">-6</text>
<text transform="translate(50.4,411.7) scale(1.0800,1)" x="0" y="2.78" font-size="7.73" fill="#000" stroke="#000" stroke-width="0.08" text-anchor="middle">0.0</text>
<text transform="translate(69.66,411.7) scale(1.0800,1)" x="0" y="2.78" font-size="7.73" fill="#000" stroke="#000" stroke-width="0.08" text-anchor="middle">0.3</text>
<text transform="translate(88.92,411.7) scale(1.0800,1)" x="0" y="2.78" font-size="7.73" fill="#000" stroke="#000" stroke-width="0.08" text-anchor="middle">0.6</text>
<text transform="translate(108.18,411.7) scale(1.0800,1)" x="0" y="2.78" font-size="7.73" fill="#000" stroke="#000" stroke-width="0.08" text-anchor="middle">0.9</text>
<text transform="translate(127.44,411.7) scale(1.0800,1)" x="0" y="2.78" font-size="7.73" fill="#000" stroke="#000" stroke-width="0.08" text-anchor="middle">1.2</text>
<text transform="translate(95.7,418.6) scale(0.9867,1)" x="0" y="3.17" font-size="8.8" fill="#000" stroke="#000" stroke-width="0.08" text-anchor="middle">Time (h)</text>
<text transform="translate(36.4,370.4) rotate(-90) scale(0.8909,1)" x="0" y="3.02" font-size="8.4" fill="#000" stroke="#000" stroke-width="0.05" text-anchor="middle"><tspan font-size="8.4">J (mA cm</tspan><tspan font-size="5.46" dy="-3.36">-2</tspan><tspan font-size="8.4" dy="3.36">)</tspan></text>
<text transform="translate(139,373.9) scale(1.0190,1)" x="0" y="3.02" font-size="8.4" fill="#000" stroke="#000" stroke-width="0.08">3M MeOH</text>
<text transform="translate(142,397) scale(0.9929,1)" x="0" y="3.02" font-size="8.4" fill="#000" stroke="#000" stroke-width="0.08">1M MeOH</text>
<polyline points="214.6,305.4 215.59,307 216.57,308.52 217.56,309.92 218.55,311.18 219.53,312.36 220.52,313.52 221.51,314.61 222.49,315.61 223.48,316.51 224.47,317.26 225.45,317.87 226.44,318.41 227.43,318.92 228.42,319.4 229.4,319.83 230.39,320.24 231.38,320.62 232.36,320.96 233.35,321.28 234.34,321.57 235.32,321.83 236.31,322.07 237.3,322.28 238.28,322.45 239.27,322.61 240.26,322.76 241.24,322.92 242.23,323.1 243.22,323.31 244.2,323.54 245.19,323.78 246.18,324.02 247.16,324.29 248.15,324.56 249.14,324.83 250.12,325.12 251.11,325.42 252.1,325.71 253.08,326.02 254.07,326.33 255.06,326.63 256.05,326.95 257.03,327.28 258.02,327.63 259.01,328.01 259.99,328.4 260.98,328.81 261.97,329.23 262.95,329.66 263.94,330.09 264.93,330.52 265.91,330.95 266.9,331.37 267.89,331.78 268.87,332.17 269.86,332.54 270.85,332.9 271.83,333.23 272.82,333.53 273.81,333.79 274.79,334.02 275.78,334.21 276.77,334.38 277.75,334.52 278.74,334.65 279.73,334.77 280.72,334.87 281.7,334.97 282.69,335.07 283.68,335.16 284.66,335.26 285.65,335.36 286.64,335.46 287.62,335.57 288.61,335.7 289.6,335.84 290.58,335.99 291.57,336.17 292.56,336.36 293.54,336.57 294.53,336.8 295.52,337.03 296.5,337.28 297.49,337.54 298.48,337.81 299.46,338.09 300.45,338.37 301.44,338.66 302.42,338.95 303.41,339.24 304.4,339.52 305.38,339.81 306.37,340.1 307.36,340.37 308.35,340.65 309.33,340.91 310.32,341.17 311.31,341.41 312.29,341.64 313.28,341.86 314.27,342.06 315.25,342.24 316.24,342.41 317.23,342.57 318.21,342.73 319.2,342.89 320.19,343.04 321.17,343.18 322.16,343.33 323.15,343.47 324.13,343.61 325.12,343.74 326.11,343.88 327.09,344.01 328.08,344.13 329.07,344.25 330.05,344.38 331.04,344.49 332.03,344.61 333.02,344.72 334,344.83 334.99,344.94 335.98,345.05 336.96,345.16 337.95,345.26 338.94,345.36 339.92,345.46 340.91,345.56 341.9,345.66 342.88,345.76 343.87,345.85 344.86,345.95 345.84,346.04 346.83,346.13 347.82,346.22 348.8,346.32 349.79,346.4 350.78,346.49 351.76,346.58 352.75,346.67 353.74,346.75 354.72,346.83 355.71,346.92 356.7,347 357.68,347.08 358.67,347.15 359.66,347.23 360.65,347.3 361.63,347.38 362.62,347.45 363.61,347.52 364.59,347.58 365.58,347.65 366.57,347.71 367.55,347.77 368.54,347.83 369.53,347.89 370.51,347.95 371.5,348" fill="none" stroke="#ff0a18" stroke-width="2.0" stroke-linejoin="round" stroke-linecap="round"/>
<polyline points="214.6,305.4 215.6,310.99 216.61,316.31 217.61,321.27 218.62,325.78 219.62,329.74 220.62,333.07 221.63,335.92 222.63,338.51 223.63,340.87 224.64,343.03 225.64,345.01 226.65,346.84 227.65,348.55 228.65,350.15 229.66,351.62 230.66,352.96 231.66,354.2 232.67,355.39 233.67,356.54 234.68,357.69 235.68,358.87 236.68,360.11 237.69,361.42 238.69,362.75 239.69,364.04 240.7,365.22 241.7,366.32 242.71,367.38 243.71,368.39 244.71,369.38 245.72,370.34 246.72,371.28 247.72,372.21 248.73,373.13 249.73,374.06 250.74,374.98 251.74,375.85 252.74,376.71 253.75,377.6 254.75,378.55 255.75,379.67 256.76,380.89 257.76,381.98 258.77,382.84 259.77,383.62 260.77,384.32 261.78,384.93 262.78,385.44 263.78,385.86 264.79,386.25 265.79,386.59 266.8,386.91 267.8,387.2 268.8,387.48 269.81,387.75 270.81,388.01 271.82,388.26 272.82,388.5 273.82,388.72 274.83,388.94 275.83,389.15 276.83,389.36 277.84,389.56 278.84,389.76 279.85,389.97 280.85,390.15 281.85,390.3 282.86,390.42 283.86,390.54 284.86,390.68 285.87,390.86 286.87,391.1 287.88,391.43 288.88,392.44 289.88,394.51 290.89,395.06 291.89,395.49 292.89,395.84 293.9,396.12 294.9,396.35 295.91,396.55 296.91,396.72 297.91,396.89 298.92,397.08 299.92,397.28 300.92,397.51 301.93,397.73 302.93,397.95 303.94,398.17 304.94,398.38 305.94,398.59 306.95,398.8 307.95,399 308.95,399.2 309.96,399.4 310.96,399.59 311.97,399.78 312.97,399.96 313.97,400.14 314.98,400.32 315.98,400.5 316.98,400.67 317.99,400.83 318.99,400.99 320,401.15 321,401.31 322,401.46 323.01,401.6 324.01,401.75 325.02,401.89 326.02,402.02 327.02,402.16 328.03,402.29 329.03,402.42 330.03,402.54 331.04,402.67 332.04,402.79 333.05,402.91 334.05,403.03 335.05,403.14 336.06,403.26 337.06,403.37 338.06,403.48 339.07,403.59 340.07,403.7 341.08,403.8 342.08,403.91 343.08,404.01 344.09,404.12 345.09,404.22 346.09,404.32 347.1,404.42 348.1,404.52 349.11,404.62 350.11,404.72 351.11,404.82 352.12,404.92 353.12,405.02 354.12,405.11 355.13,405.21 356.13,405.3 357.14,405.39 358.14,405.49 359.14,405.58 360.15,405.67 361.15,405.76 362.15,405.84 363.16,405.93 364.16,406.02 365.17,406.1 366.17,406.18 367.17,406.26 368.18,406.35 369.18,406.42 370.18,406.5 371.19,406.58 372.19,406.65 373.2,406.73 374.2,406.8" fill="none" stroke="#10a010" stroke-width="2.0" stroke-linejoin="round" stroke-linecap="round"/>
<rect x="214.6" y="299.5" width="171.6" height="125.9" fill="none" stroke="#737879" stroke-width="1.3"/>
<line x1="233.65" y1="425.4" x2="233.65" y2="423.3" stroke="#737879" stroke-width="1.0"/>
<line x1="233.65" y1="299.5" x2="233.65" y2="301.6" stroke="#737879" stroke-width="1.0"/>
<line x1="252.8" y1="425.4" x2="252.8" y2="421.9" stroke="#737879" stroke-width="1.0"/>
<line x1="252.8" y1="299.5" x2="252.8" y2="303" stroke="#737879" stroke-width="1.0"/>
<line x1="271.95" y1="425.4" x2="271.95" y2="423.3" stroke="#737879" stroke-width="1.0"/>
<line x1="271.95" y1="299.5" x2="271.95" y2="301.6" stroke="#737879" stroke-width="1.0"/>
<line x1="291.1" y1="425.4" x2="291.1" y2="421.9" stroke="#737879" stroke-width="1.0"/>
<line x1="291.1" y1="299.5" x2="291.1" y2="303" stroke="#737879" stroke-width="1.0"/>
<line x1="310.25" y1="425.4" x2="310.25" y2="423.3" stroke="#737879" stroke-width="1.0"/>
<line x1="310.25" y1="299.5" x2="310.25" y2="301.6" stroke="#737879" stroke-width="1.0"/>
<line x1="329.4" y1="425.4" x2="329.4" y2="421.9" stroke="#737879" stroke-width="1.0"/>
<line x1="329.4" y1="299.5" x2="329.4" y2="303" stroke="#737879" stroke-width="1.0"/>
<line x1="348.55" y1="425.4" x2="348.55" y2="423.3" stroke="#737879" stroke-width="1.0"/>
<line x1="348.55" y1="299.5" x2="348.55" y2="301.6" stroke="#737879" stroke-width="1.0"/>
<line x1="367.7" y1="425.4" x2="367.7" y2="421.9" stroke="#737879" stroke-width="1.0"/>
<line x1="367.7" y1="299.5" x2="367.7" y2="303" stroke="#737879" stroke-width="1.0"/>
<line x1="214.6" y1="425.3" x2="218.1" y2="425.3" stroke="#737879" stroke-width="1.0"/>
<line x1="386.2" y1="425.3" x2="382.7" y2="425.3" stroke="#737879" stroke-width="1.0"/>
<line x1="214.6" y1="413.31" x2="216.7" y2="413.31" stroke="#737879" stroke-width="1.0"/>
<line x1="386.2" y1="413.31" x2="384.1" y2="413.31" stroke="#737879" stroke-width="1.0"/>
<line x1="214.6" y1="401.32" x2="218.1" y2="401.32" stroke="#737879" stroke-width="1.0"/>
<line x1="386.2" y1="401.32" x2="382.7" y2="401.32" stroke="#737879" stroke-width="1.0"/>
<line x1="214.6" y1="389.33" x2="216.7" y2="389.33" stroke="#737879" stroke-width="1.0"/>
<line x1="386.2" y1="389.33" x2="384.1" y2="389.33" stroke="#737879" stroke-width="1.0"/>
<line x1="214.6" y1="377.34" x2="218.1" y2="377.34" stroke="#737879" stroke-width="1.0"/>
<line x1="386.2" y1="377.34" x2="382.7" y2="377.34" stroke="#737879" stroke-width="1.0"/>
<line x1="214.6" y1="365.35" x2="216.7" y2="365.35" stroke="#737879" stroke-width="1.0"/>
<line x1="386.2" y1="365.35" x2="384.1" y2="365.35" stroke="#737879" stroke-width="1.0"/>
<line x1="214.6" y1="353.36" x2="218.1" y2="353.36" stroke="#737879" stroke-width="1.0"/>
<line x1="386.2" y1="353.36" x2="382.7" y2="353.36" stroke="#737879" stroke-width="1.0"/>
<line x1="214.6" y1="341.37" x2="216.7" y2="341.37" stroke="#737879" stroke-width="1.0"/>
<line x1="386.2" y1="341.37" x2="384.1" y2="341.37" stroke="#737879" stroke-width="1.0"/>
<line x1="214.6" y1="329.38" x2="218.1" y2="329.38" stroke="#737879" stroke-width="1.0"/>
<line x1="386.2" y1="329.38" x2="382.7" y2="329.38" stroke="#737879" stroke-width="1.0"/>
<line x1="214.6" y1="317.39" x2="216.7" y2="317.39" stroke="#737879" stroke-width="1.0"/>
<line x1="386.2" y1="317.39" x2="384.1" y2="317.39" stroke="#737879" stroke-width="1.0"/>
<text transform="translate(214.5,431.3) scale(1.0800,1)" x="0" y="2.78" font-size="7.73" fill="#000" stroke="#000" stroke-width="0.08" text-anchor="middle">0</text>
<text transform="translate(252.8,431.3) scale(1.0800,1)" x="0" y="2.78" font-size="7.73" fill="#000" stroke="#000" stroke-width="0.08" text-anchor="middle">5</text>
<text transform="translate(291.1,431.3) scale(1.0800,1)" x="0" y="2.78" font-size="7.73" fill="#000" stroke="#000" stroke-width="0.08" text-anchor="middle">10</text>
<text transform="translate(329.4,431.3) scale(1.0800,1)" x="0" y="2.78" font-size="7.73" fill="#000" stroke="#000" stroke-width="0.08" text-anchor="middle">15</text>
<text transform="translate(367.7,431.3) scale(1.0800,1)" x="0" y="2.78" font-size="7.73" fill="#000" stroke="#000" stroke-width="0.08" text-anchor="middle">20</text>
<text transform="translate(213.5,425.3) scale(1.0800,1)" x="0" y="2.71" font-size="7.54" fill="#000" stroke="#000" stroke-width="0.08" text-anchor="end">0</text>
<text transform="translate(213.5,401.32) scale(1.0800,1)" x="0" y="2.71" font-size="7.54" fill="#000" stroke="#000" stroke-width="0.08" text-anchor="end">20</text>
<text transform="translate(213.5,377.34) scale(1.0800,1)" x="0" y="2.71" font-size="7.54" fill="#000" stroke="#000" stroke-width="0.08" text-anchor="end">40</text>
<text transform="translate(213.5,353.36) scale(1.0800,1)" x="0" y="2.71" font-size="7.54" fill="#000" stroke="#000" stroke-width="0.08" text-anchor="end">60</text>
<text transform="translate(213.5,329.38) scale(1.0800,1)" x="0" y="2.71" font-size="7.54" fill="#000" stroke="#000" stroke-width="0.08" text-anchor="end">80</text>
<text transform="translate(213.5,305.4) scale(1.0800,1)" x="0" y="2.71" font-size="7.54" fill="#000" stroke="#000" stroke-width="0.08" text-anchor="end">100</text>
<text transform="translate(300.4,441.2) scale(1.0176,1)" x="0" y="3.17" font-size="8.8" fill="#000" stroke="#000" stroke-width="0.08" text-anchor="middle">Time (h)</text>
<text transform="translate(199,370.3) rotate(-90) scale(0.9949,1)" x="0" y="3.1" font-size="8.6" fill="#000" stroke="#000" stroke-width="0" text-anchor="middle">% Current density</text>
<text transform="translate(194.3,438.6)" x="0" y="4.03" font-size="11.2" fill="#000" stroke="#000" stroke-width="0.08" font-weight="bold">(f)</text>
<text transform="translate(251.5,312.8) scale(1.0374,1)" x="0" y="3.96" font-size="11" fill="#000" stroke="#000" stroke-width="0.08">Co/C</text>
<text transform="translate(291.3,324.4) scale(1.0100,1)" x="0" y="3.96" font-size="11" fill="#ff0a18" stroke="#ff0a18" stroke-width="0.08"><tspan font-size="11">Co</tspan><tspan font-size="7.92" dy="2.64">25</tspan><tspan font-size="11" dy="-2.64">Zn</tspan><tspan font-size="7.92" dy="2.64">75</tspan><tspan font-size="11" dy="-2.64">–C900</tspan></text>
<text transform="translate(332.2,389.3) scale(1.0089,1)" x="0" y="3.96" font-size="11" fill="#10a010" stroke="#10a010" stroke-width="0.08">PtC</text>
</svg></body></html>
